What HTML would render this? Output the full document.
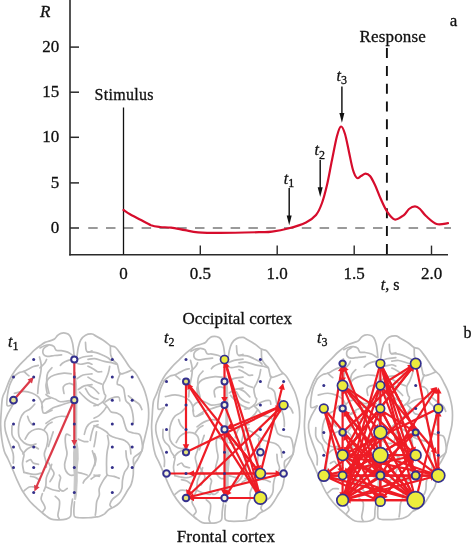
<!DOCTYPE html>
<html><head><meta charset="utf-8"><style>
html,body{margin:0;padding:0;background:#fff;}
svg{display:block;}
.t16{font-family:"Liberation Serif",serif;font-size:16px;fill:#111;stroke:#111;stroke-width:0.3px;}
.t17{font-family:"Liberation Serif",serif;font-size:17px;fill:#111;stroke:#111;stroke-width:0.3px;}
.i16{font-family:"Liberation Serif",serif;font-size:16px;font-style:italic;fill:#111;stroke:#111;stroke-width:0.3px;}
.i17{font-family:"Liberation Serif",serif;font-size:17px;font-style:italic;fill:#111;stroke:#111;stroke-width:0.3px;}
.i{font-style:italic;}
</style></head><body>
<svg width="472" height="543" viewBox="0 0 472 543">
<line x1="70" y1="0" x2="70" y2="255.6" stroke="#2a2a2a" stroke-width="1.6"/>
<line x1="69.2" y1="254.8" x2="448" y2="254.8" stroke="#2a2a2a" stroke-width="1.6"/>
<line x1="70" y1="228" x2="79" y2="228" stroke="#2a2a2a" stroke-width="1.5"/>
<text x="59.2" y="233.1" text-anchor="end" class="t17">0</text>
<line x1="70" y1="182.9" x2="79" y2="182.9" stroke="#2a2a2a" stroke-width="1.5"/>
<text x="59.2" y="188.0" text-anchor="end" class="t17">5</text>
<line x1="70" y1="137.3" x2="79" y2="137.3" stroke="#2a2a2a" stroke-width="1.5"/>
<text x="59.2" y="142.4" text-anchor="end" class="t17">10</text>
<line x1="70" y1="92.2" x2="79" y2="92.2" stroke="#2a2a2a" stroke-width="1.5"/>
<text x="59.2" y="97.3" text-anchor="end" class="t17">15</text>
<line x1="70" y1="47.1" x2="79" y2="47.1" stroke="#2a2a2a" stroke-width="1.5"/>
<text x="59.2" y="52.2" text-anchor="end" class="t17">20</text>
<text x="123.5" y="278.8" text-anchor="middle" class="t17">0</text>
<line x1="200.3" y1="245.6" x2="200.3" y2="254.8" stroke="#2a2a2a" stroke-width="1.4"/>
<text x="200.3" y="278.8" text-anchor="middle" class="t17">0.5</text>
<line x1="277.2" y1="245.6" x2="277.2" y2="254.8" stroke="#2a2a2a" stroke-width="1.4"/>
<text x="277.2" y="278.8" text-anchor="middle" class="t17">1.0</text>
<line x1="354.2" y1="245.6" x2="354.2" y2="254.8" stroke="#2a2a2a" stroke-width="1.4"/>
<text x="354.2" y="278.8" text-anchor="middle" class="t17">1.5</text>
<line x1="431.5" y1="245.6" x2="431.5" y2="254.8" stroke="#2a2a2a" stroke-width="1.4"/>
<text x="431.5" y="278.8" text-anchor="middle" class="t17">2.0</text>
<line x1="88.2" y1="228" x2="451" y2="228" stroke="#7a7a7a" stroke-width="1.6" stroke-dasharray="9.5 8.3"/>
<line x1="123.5" y1="107.5" x2="123.5" y2="254.5" stroke="#111" stroke-width="1.3"/>
<text x="94.5" y="100" class="t16" textLength="59">Stimulus</text>
<line x1="386.9" y1="48.1" x2="386.9" y2="254.5" stroke="#111" stroke-width="1.9" stroke-dasharray="10 7.8"/>
<text x="359.5" y="42.2" class="t17" textLength="66.3">Response</text>
<text x="40" y="17.2" class="i17">R</text>
<text x="380.8" y="289.6" class="t16"><tspan class="i">t</tspan>, s</text>
<text x="449.8" y="25.7" class="t17">a</text>
<path d="M123.5,210 C124.6,210.7 127.2,212.6 130.0,214.2 C132.8,215.8 136.5,217.7 140.0,219.5 C143.5,221.3 147.7,223.9 151.0,225.2 C154.3,226.4 156.7,226.6 160.0,227.0 C163.3,227.4 166.8,227.1 171.0,227.6 C175.2,228.1 180.5,229.4 185.0,230.2 C189.5,231.0 192.2,231.9 198.0,232.3 C203.8,232.7 209.8,232.8 220.0,232.8 C230.2,232.8 250.3,232.4 259.0,232.2 C267.7,232.0 267.0,232.3 272.0,231.6 C277.0,230.9 283.3,229.7 289.0,228.2 C294.7,226.7 301.5,224.6 306.0,222.4 C310.5,220.2 313.3,218.2 316.0,215.0 C318.7,211.8 320.2,208.0 322.0,203.0 C323.8,198.0 325.3,192.2 327.0,185.0 C328.7,177.8 330.3,168.2 332.0,160.0 C333.7,151.8 335.5,141.6 337.0,136.0 C338.5,130.4 339.7,126.8 341.0,126.5 C342.3,126.2 343.7,129.8 345.0,134.0 C346.3,138.2 347.7,146.0 349.0,152.0 C350.3,158.0 351.7,165.7 353.0,170.0 C354.3,174.3 355.7,177.0 357.0,178.0 C358.3,179.0 359.6,176.7 361.0,176.0 C362.4,175.3 364.0,173.6 365.5,173.6 C367.0,173.6 368.4,174.1 370.0,176.0 C371.6,177.9 373.2,181.2 375.0,185.0 C376.8,188.8 378.7,194.4 380.7,198.8 C382.7,203.2 384.7,208.1 387.0,211.5 C389.3,214.9 391.9,218.9 394.7,219.5 C397.5,220.1 401.2,217.1 403.6,215.3 C406.0,213.6 407.1,210.5 409.0,209.0 C410.9,207.5 413.2,206.4 415.0,206.4 C416.8,206.4 418.2,207.4 420.0,209.0 C421.8,210.6 423.2,213.5 426.0,216.0 C428.8,218.5 432.9,222.8 436.6,224.0 C440.3,225.2 446.1,223.3 448.0,223.2" fill="none" stroke="#d60c2c" stroke-width="2.2" stroke-linejoin="round" stroke-linecap="round"/>
<line x1="289.2" y1="188" x2="289.2" y2="219.2" stroke="#1a1a1a" stroke-width="1.5"/>
<path d="M286.7,215.39999999999998 L291.7,215.39999999999998 L289.2,225.2 Z" fill="#111"/>
<line x1="320.2" y1="160" x2="320.2" y2="191" stroke="#1a1a1a" stroke-width="1.5"/>
<path d="M317.7,187.2 L322.7,187.2 L320.2,197 Z" fill="#111"/>
<line x1="341.9" y1="86.5" x2="341.9" y2="116.8" stroke="#1a1a1a" stroke-width="1.5"/>
<path d="M339.4,113.0 L344.4,113.0 L341.9,122.8 Z" fill="#111"/>
<text x="283.8" y="183.5" class="i16">t<tspan font-style="normal" font-size="12" dy="3.5">1</tspan></text>
<text x="314.5" y="155" class="i16">t<tspan font-style="normal" font-size="12" dy="3.5">2</tspan></text>
<text x="336.5" y="80.5" class="i16">t<tspan font-style="normal" font-size="12" dy="3.5">3</tspan></text>
<g transform="translate(0,0) translate(0,333) scale(1,1.008) translate(0,-333)" fill="none" stroke="#bdbdbd" stroke-width="1.7" stroke-linecap="round" stroke-linejoin="round"><path d="M74.1,355.6 C74.0,354.6 73.8,351.8 73.5,349.6 C73.2,347.4 73.0,344.7 72.4,342.4 C71.8,340.1 71.0,337.5 70.0,336.0 C69.0,334.5 67.9,333.8 66.4,333.4 C64.9,332.9 62.5,332.9 61.0,333.3 C59.5,333.7 58.6,334.6 57.5,335.5 C56.4,336.4 55.8,338.1 54.5,339.0 C53.2,339.9 51.6,340.2 50.0,340.8 C48.4,341.4 46.5,341.6 45.0,342.3 C43.5,343.0 42.4,343.9 40.7,345.2 C39.0,346.4 36.9,347.9 34.7,349.8 C32.5,351.7 30.0,354.5 27.6,356.8 C25.2,359.1 22.6,361.5 20.4,363.9 C18.2,366.3 16.2,368.5 14.4,371.1 C12.6,373.7 11.1,376.3 9.6,379.5 C8.1,382.7 6.6,387.3 5.4,390.3 C4.2,393.3 3.1,394.0 2.4,397.6 C1.7,401.2 1.5,407.6 1.2,412.0 C0.9,416.4 0.5,419.6 0.6,424.0 C0.7,428.4 1.2,434.0 1.8,438.3 C2.4,442.6 3.2,446.7 4.2,450.0 C5.2,453.3 6.5,454.7 8.0,458.0 C9.5,461.3 11.8,466.4 13.3,469.9 C14.8,473.4 15.7,475.9 17.2,479.2 C18.7,482.5 20.5,486.5 22.5,489.8 C24.5,493.1 26.8,496.2 29.2,499.1 C31.6,502.0 34.5,504.6 37.1,507.0 C39.8,509.4 42.7,511.9 45.1,513.7 C47.5,515.5 48.9,516.9 51.3,517.7 C53.7,518.5 56.9,518.3 59.3,518.3 C61.7,518.3 64.0,518.2 65.9,517.7 C67.8,517.2 69.6,516.8 70.5,515.0 C71.4,513.2 70.9,509.9 71.2,507.0 C71.5,504.1 72.3,499.3 72.5,497.8"/><path d="M13.2,377.1 C12.6,378.4 10.5,382.0 9.5,385.0 C8.5,388.0 7.8,391.7 7.4,395.0 C7.0,398.3 6.2,403.6 7.2,405.0 C8.2,406.4 12.2,403.8 13.2,403.6"/><path d="M13.2,403.6 C12.2,405.4 8.6,411.4 7.2,414.4 C5.8,417.4 5.1,418.9 4.8,421.5 C4.5,424.1 4.8,427.0 5.4,430.0 C6.0,433.0 7.1,435.7 8.4,439.5 C9.7,443.3 12.4,449.2 13.2,453.0 C14.0,456.8 13.3,460.5 13.3,462.0"/><path d="M40,347.8 C40.8,347.4 42.9,346.1 44.5,345.6 C46.1,345.1 48.1,344.7 49.6,344.8 C51.1,344.9 52.7,345.3 53.8,346.2 C54.9,347.1 55.0,349.5 56.2,350.2 C57.4,350.9 59.1,350.2 61.0,350.5 C62.9,350.8 65.6,351.2 67.6,352.0 C69.6,352.8 72.1,354.8 73.0,355.3"/><path d="M47.9,345.5 C47.3,345.9 45.1,346.9 44.3,347.8 C43.4,348.7 42.9,349.9 42.8,351.0 C42.7,352.1 42.9,353.5 43.6,354.4 C44.3,355.3 45.4,356.0 47.2,356.2 C49.0,356.4 52.0,355.6 54.4,355.3 C56.8,355.0 60.4,354.7 61.6,354.6"/><path d="M52,367.5 C51.3,368.3 48.8,370.5 47.9,372.3 C47.0,374.1 46.8,376.1 46.7,378.3 C46.6,380.5 46.9,383.1 47.3,385.5 C47.7,387.9 48.8,391.8 49.1,393.0"/><path d="M39.5,356.8 C39.7,357.6 40.4,359.9 40.7,361.5 C41.0,363.1 41.3,364.5 41.3,366.3 C41.3,368.1 41.0,370.3 40.7,372.3 C40.4,374.3 39.9,376.1 39.5,378.3 C39.1,380.5 38.6,383.1 38.3,385.5 C38.0,387.9 37.8,391.8 37.7,393.0"/><path d="M38.3,365.1 C37.5,365.3 35.1,365.7 33.5,366.3 C31.9,366.9 30.4,367.9 28.8,368.7 C27.2,369.5 25.6,370.5 24.0,371.1 C22.4,371.7 20.6,371.7 19.2,372.3 C17.8,372.9 16.6,373.9 15.6,374.7 C14.6,375.5 13.6,376.7 13.2,377.1"/><path d="M24,371.1 C24.4,371.5 25.7,372.8 26.5,373.5 C27.3,374.2 28.6,375.2 29.0,375.5"/><path d="M40,367.5 C40.8,366.7 43.7,364.1 44.8,362.7 C45.9,361.3 46.3,359.8 46.6,359.2"/><path d="M72.4,359.2 C71.6,359.4 69.2,359.8 67.6,360.4 C66.0,361.0 64.0,361.9 62.8,362.7 C61.6,363.5 60.8,364.7 60.4,365.1"/><path d="M47.2,393 C47.0,391.6 45.8,386.8 46.0,384.3 C46.2,381.9 47.0,379.9 48.4,378.3 C49.8,376.7 51.8,375.6 54.4,374.7 C57.0,373.8 61.2,373.1 64.0,372.9 C66.8,372.7 70.0,373.4 71.2,373.5"/><path d="M64,393 C63.9,391.9 62.6,387.9 63.4,386.3 C64.2,384.7 67.1,383.4 68.8,383.1 C70.5,382.8 72.7,384.1 73.5,384.3"/><path d="M14.4,392.8 C16.0,392.5 21.0,391.0 24.0,391.0 C27.0,391.0 30.0,391.9 32.4,392.8 C34.8,393.7 36.8,395.0 38.3,396.4 C39.8,397.8 40.6,399.4 41.3,401.2 C42.0,403.0 42.3,406.2 42.5,407.2"/><path d="M41.9,402.4 C42.5,401.8 44.1,399.6 45.5,398.8 C46.9,398.0 49.5,397.8 50.3,397.6"/><path d="M34.7,403.6 C33.9,404.4 31.8,407.0 30.0,408.4 C28.2,409.8 25.6,410.4 24.0,412.0 C22.4,413.6 21.3,415.6 20.4,418.0 C19.5,420.4 18.8,423.3 18.6,426.3 C18.4,429.3 18.3,433.3 19.2,435.9 C20.1,438.5 22.2,440.5 24.0,441.9 C25.8,443.3 28.0,444.1 30.0,444.3 C32.0,444.5 34.9,443.3 35.9,443.1"/><path d="M41.9,406 C42.1,407.0 42.3,411.0 43.1,412.0 C43.9,413.0 45.2,412.4 46.7,412.0 C48.2,411.6 51.1,410.0 52.0,409.6"/><path d="M27.6,415.6 C27.9,416.4 28.6,419.0 29.4,420.4 C30.2,421.8 31.9,423.4 32.4,424.0"/><path d="M25.2,438.3 C25.8,437.3 27.2,433.9 28.8,432.3 C30.4,430.7 32.5,429.3 34.7,428.7 C36.9,428.1 39.9,428.1 41.9,428.7 C43.9,429.3 45.7,430.7 46.7,432.3 C47.7,433.9 47.9,436.1 47.9,438.3 C47.9,440.5 47.3,443.1 46.7,445.5 C46.1,447.9 44.4,450.6 44.3,453.0 C44.1,455.4 45.4,457.8 45.8,460.0 C46.1,462.2 46.3,465.0 46.4,466.0"/><path d="M52,421.5 C51.3,421.9 49.2,422.8 47.9,424.0 C46.6,425.2 44.9,427.9 44.3,428.7"/><path d="M12,425.1 C12.0,426.5 11.6,431.3 12.0,433.5 C12.4,435.7 13.4,436.9 14.4,438.3 C15.4,439.7 17.0,440.3 18.0,441.9 C19.0,443.5 19.4,446.0 20.4,447.9 C21.4,449.8 23.4,451.3 23.9,453.0 C24.4,454.7 23.4,456.3 23.2,458.0 C23.0,459.7 22.4,461.1 22.5,463.3 C22.6,465.5 23.7,469.9 23.9,471.2"/><path d="M22.8,453 C23.6,452.1 25.8,449.1 27.6,447.9 C29.4,446.6 31.7,445.5 33.5,445.5 C35.3,445.5 37.5,447.5 38.3,447.9"/><path d="M46,394 C46.6,394.4 48.0,395.6 49.6,396.4 C51.2,397.2 53.8,398.0 55.6,398.8 C57.4,399.6 58.0,401.0 60.4,401.2 C62.8,401.4 68.4,400.2 70.0,400.0"/><path d="M46,412 C47.2,411.2 50.8,408.4 53.2,407.2 C55.6,406.0 58.0,405.6 60.4,404.8 C62.8,404.0 65.6,403.0 67.6,402.4 C69.6,401.8 71.6,401.4 72.4,401.2"/><path d="M46,422.7 C46.8,422.1 49.2,420.2 50.8,419.2 C52.4,418.2 53.8,417.4 55.6,416.8 C57.4,416.2 59.6,415.7 61.6,415.6 C63.6,415.5 66.6,416.1 67.6,416.2"/><path d="M53.2,431.1 C52.8,432.3 51.6,435.9 50.8,438.3 C50.0,440.7 48.8,444.3 48.4,445.5"/><path d="M70,434.7 C69.4,434.5 67.2,432.9 66.4,433.5 C65.6,434.1 65.3,436.3 65.2,438.3 C65.1,440.3 65.5,443.1 65.8,445.5 C66.1,447.9 67.2,450.0 67.0,453.0 C66.8,456.0 64.8,460.5 64.6,463.3 C64.4,466.1 65.0,468.1 65.9,469.9 C66.8,471.7 68.6,473.2 69.9,473.9 C71.2,474.6 73.2,473.9 73.9,473.9"/><path d="M26.5,460.6 C27.2,460.3 29.4,458.4 30.5,458.6 C31.6,458.8 31.9,461.1 33.2,461.9 C34.5,462.7 37.6,463.1 38.5,463.3"/><path d="M23.9,471.2 C24.8,471.4 27.2,472.2 29.2,472.5 C31.2,472.8 33.8,473.3 35.8,473.2 C37.8,473.1 40.2,472.1 41.1,471.9"/><path d="M30.5,475.2 C31.4,475.4 34.2,475.8 35.8,476.5 C37.3,477.2 39.1,478.8 39.8,479.2"/><path d="M23.9,489.8 C24.8,489.1 27.4,486.5 29.2,485.8 C31.0,485.1 33.6,485.8 34.5,485.8"/><path d="M42.4,492.4 C42.2,493.3 40.9,495.9 41.1,497.7 C41.3,499.5 43.1,501.4 43.8,503.0 C44.5,504.6 45.3,505.7 45.1,507.0 C44.9,508.3 42.4,509.9 42.4,511.0 C42.4,512.1 44.6,513.2 45.1,513.7"/><path d="M51.7,463.3 C51.3,464.4 50.0,467.7 49.1,469.9 C48.2,472.1 47.0,474.1 46.4,476.5 C45.8,478.9 46.2,482.3 45.8,484.5 C45.4,486.7 44.1,488.9 43.8,489.8"/><path d="M59.3,473.9 C59.5,474.3 60.6,475.2 60.6,476.5 C60.6,477.8 59.5,480.0 59.3,481.8 C59.1,483.6 58.6,485.9 59.3,487.2 C59.9,488.5 61.9,489.8 63.2,489.8 C64.5,489.8 66.5,487.6 67.2,487.2"/><path d="M46,485.8 C47.1,486.2 50.4,487.8 52.6,488.5 C54.8,489.2 58.2,489.6 59.3,489.8"/><path d="M55.3,495.1 C56.0,495.8 58.6,497.3 59.3,499.1 C60.0,500.9 59.5,503.3 59.3,505.7 C59.1,508.1 57.9,511.7 57.9,513.7 C57.9,515.7 59.1,517.0 59.3,517.7"/><path d="M48.7,461.9 C49.1,462.8 50.4,465.4 51.3,467.2 C52.2,469.0 54.2,470.4 54.0,472.6 C53.8,474.8 50.7,479.2 50.0,480.5"/><path d="M77.1,355.6 C77.3,354.2 77.7,349.8 78.3,347.2 C78.9,344.6 79.5,342.0 80.7,340.0 C81.9,338.0 83.6,336.2 85.5,335.2 C87.4,334.2 90.2,333.9 92.0,334.0 C93.8,334.1 94.0,335.0 96.1,336.1 C98.1,337.2 101.9,339.3 104.3,340.9 C106.7,342.5 108.6,344.6 110.4,345.6 C112.2,346.6 113.6,346.0 115.1,347.0 C116.6,348.0 117.6,349.7 119.2,351.7 C120.8,353.7 122.8,356.6 124.6,359.2 C126.4,361.8 128.2,365.1 130.0,367.3 C131.8,369.6 133.9,370.7 135.5,372.7 C137.1,374.7 138.2,377.0 139.5,379.5 C140.8,382.0 142.5,385.1 143.6,387.7 C144.7,390.3 145.4,392.7 146.2,395.4 C146.9,398.1 147.7,401.1 148.1,404.0 C148.5,406.9 148.7,409.5 148.7,412.6 C148.7,415.7 148.6,418.9 148.1,422.4 C147.6,425.9 146.4,430.0 145.6,433.5 C144.8,437.0 143.8,440.6 143.2,443.3 C142.6,446.1 142.7,447.6 141.8,450.0 C140.9,452.4 139.1,455.6 137.8,458.0 C136.5,460.4 134.6,462.0 133.8,464.6 C133.0,467.2 133.6,470.8 133.2,473.9 C132.8,477.0 132.2,480.5 131.2,483.2 C130.2,485.9 128.5,487.6 127.2,489.8 C125.9,492.0 124.5,494.5 123.2,496.5 C121.9,498.5 120.8,500.3 119.2,501.8 C117.7,503.3 115.7,504.6 113.9,505.7 C112.1,506.8 110.1,507.3 108.6,508.4 C107.0,509.5 106.1,511.3 104.6,512.4 C103.0,513.5 100.7,514.5 99.3,515.0 C97.9,515.5 98.2,515.3 96.4,515.5 C94.6,515.7 91.4,516.2 88.5,516.3 C85.6,516.4 81.5,516.5 79.2,516.3 C76.9,516.1 75.4,516.3 74.5,515.0 C73.6,513.7 73.9,510.8 73.9,508.4 C73.9,506.0 74.4,501.7 74.5,500.4"/><path d="M77.1,359.2 C78.1,358.8 80.6,357.4 83.1,356.8 C85.6,356.2 90.5,355.8 92.0,355.6"/><path d="M85.5,342.4 C85.6,343.6 85.7,348.0 86.1,349.6 C86.5,351.2 86.9,351.8 87.9,352.0 C88.9,352.2 91.3,351.0 92.0,350.8"/><path d="M76,362.7 C76.8,362.9 78.7,364.0 80.7,364.0 C82.7,364.0 86.0,362.7 87.9,362.7 C89.8,362.7 91.3,363.8 92.0,364.0"/><path d="M77.1,378.3 C78.1,377.7 80.6,375.5 83.1,374.7 C85.6,373.9 90.5,373.7 92.0,373.5"/><path d="M78.3,389.1 C79.3,388.5 82.0,386.3 84.3,385.5 C86.6,384.7 90.7,384.5 92.0,384.3"/><path d="M110.4,346.3 C110.5,347.8 110.2,352.7 110.8,355.1 C111.4,357.5 112.7,359.0 113.8,360.5 C114.9,362.0 116.4,362.5 117.2,363.9 C118.0,365.3 118.0,367.1 118.5,368.7 C119.0,370.3 118.9,372.7 119.9,373.4 C120.9,374.1 122.7,373.3 124.6,372.7 C126.5,372.1 130.3,370.4 131.4,370.0"/><path d="M88,351.7 C89.3,351.8 93.6,351.8 96.1,352.4 C98.6,353.0 100.9,354.2 102.9,355.1 C104.9,356.0 107.0,356.9 108.3,357.8 C109.6,358.7 110.5,360.1 111.0,360.5"/><path d="M88,359.2 C89.1,359.1 92.1,358.2 94.8,358.5 C97.5,358.8 101.4,360.5 104.3,361.2 C107.2,361.9 110.4,362.2 112.4,362.6 C114.4,363.1 115.8,363.7 116.5,363.9"/><path d="M88,366 C88.9,366.4 91.8,367.8 93.4,368.7 C95.0,369.6 96.1,370.9 97.5,371.4 C98.9,371.8 100.9,371.4 101.6,371.4"/><path d="M109.7,366 C109.5,367.1 109.0,370.4 108.3,372.7 C107.6,374.9 106.5,377.4 105.6,379.5 C104.7,381.6 103.1,382.8 102.9,385.0 C102.7,387.2 103.8,391.3 104.3,393.0 C104.8,394.7 105.8,394.2 105.7,395.4 C105.6,396.6 104.9,398.9 103.8,400.3 C102.7,401.7 100.5,403.2 98.9,404.0 C97.3,404.8 94.8,405.0 94.0,405.2"/><path d="M88,376.8 C89.1,377.5 92.5,379.8 94.8,380.9 C97.1,382.0 100.5,383.2 101.6,383.6"/><path d="M120.5,372.7 C120.0,373.8 118.3,377.7 117.8,379.5 C117.2,381.3 116.8,382.7 117.2,383.6 C117.7,384.5 119.5,384.3 120.5,385.0 C121.5,385.7 122.8,386.5 123.5,388.0 C124.2,389.5 124.3,392.1 124.7,394.1 C125.1,396.2 125.2,398.7 126.0,400.3 C126.8,401.9 128.6,402.4 129.6,404.0 C130.6,405.6 131.5,407.9 132.1,410.1 C132.7,412.4 133.1,415.4 133.3,417.5 C133.5,419.6 133.3,421.6 133.3,422.4"/><path d="M88,385 C88.9,385.4 91.6,386.4 93.4,387.7 C95.2,389.0 97.9,392.1 98.8,393.0"/><path d="M128.4,395.4 C129.4,396.2 132.8,398.9 134.6,400.3 C136.4,401.7 138.3,402.6 139.5,404.0 C140.7,405.4 141.5,408.1 141.9,408.9"/><path d="M105,401.5 C106.0,400.9 108.9,398.6 111.2,397.8 C113.5,397.0 117.2,396.2 118.6,396.6 C120.0,397.0 119.6,399.7 119.8,400.3"/><path d="M102.6,401.5 C103.4,402.3 106.1,404.8 107.5,406.4 C108.9,408.0 109.6,410.3 111.2,411.3 C112.8,412.3 115.5,411.8 117.3,412.6 C119.1,413.4 121.1,414.5 122.3,416.3 C123.5,418.1 123.9,421.4 124.7,423.6 C125.5,425.9 125.8,428.4 127.2,429.8 C128.6,431.2 131.2,431.6 133.3,432.2 C135.4,432.8 138.1,432.1 139.5,433.5 C140.9,434.9 141.5,438.1 141.9,440.8 C142.3,443.6 143.2,447.4 141.9,450.0 C140.6,452.6 135.2,454.2 133.8,456.6 C132.5,459.0 133.8,463.3 133.8,464.6"/><path d="M94,424.9 C95.0,425.3 98.0,426.3 100.1,427.3 C102.1,428.3 104.6,429.8 106.3,431.0 C108.0,432.2 108.4,433.7 110.0,434.7 C111.6,435.7 113.6,436.4 116.1,437.2 C118.5,438.0 122.5,438.4 124.7,439.6 C127.0,440.8 128.6,442.3 129.6,444.5 C130.6,446.7 130.7,451.6 130.9,453.0"/><path d="M94,417.5 C94.8,417.1 97.3,416.2 98.9,415.0 C100.5,413.8 102.6,411.5 103.8,410.1 C105.0,408.7 105.9,407.0 106.3,406.4"/><path d="M96.5,431 C96.3,432.4 95.6,437.1 95.2,439.6 C94.8,442.1 94.2,444.8 94.0,445.8"/><path d="M107.5,434.7 C107.7,435.9 108.7,439.6 108.7,442.1 C108.7,444.7 107.7,447.4 107.3,450.0 C106.9,452.6 106.7,455.1 106.6,458.0 C106.5,460.9 106.5,464.7 106.6,467.3 C106.7,469.9 106.1,472.6 107.3,473.9 C108.5,475.2 111.9,474.6 113.9,475.2 C115.9,475.8 118.3,476.9 119.2,477.2"/><path d="M79.5,391.6 C80.3,392.4 82.5,394.8 84.3,396.4 C86.1,398.0 88.0,399.8 90.3,401.2 C92.6,402.6 96.7,404.2 98.0,404.8"/><path d="M85.5,388 C86.1,389.0 87.7,392.4 89.1,394.0 C90.5,395.6 92.4,396.8 93.9,397.6 C95.4,398.4 97.3,398.6 98.0,398.8"/><path d="M98,420.4 C96.9,420.6 93.4,420.5 91.5,421.5 C89.6,422.5 87.9,424.3 86.7,426.3 C85.5,428.3 84.7,432.3 84.3,433.5"/><path d="M98,424 C97.3,424.4 95.0,424.7 93.9,426.3 C92.8,427.9 92.1,431.3 91.5,433.5 C90.9,435.7 90.5,438.5 90.3,439.5"/><path d="M78.3,438.3 C79.3,438.7 82.7,440.3 84.3,440.7 C85.9,441.1 87.3,440.7 87.9,440.7"/><path d="M125.9,450 C126.0,451.1 126.1,454.4 126.5,456.6 C126.9,458.8 128.4,461.5 128.5,463.3 C128.6,465.1 127.9,466.0 127.2,467.3 C126.5,468.6 125.3,469.2 124.5,471.2 C123.7,473.2 122.9,476.5 122.5,479.2 C122.1,481.9 122.5,485.0 121.9,487.2 C121.4,489.4 120.8,490.7 119.2,492.5 C117.7,494.3 114.1,496.0 112.6,497.8 C111.0,499.6 110.1,501.8 109.9,503.1 C109.7,504.4 111.1,505.3 111.3,505.7"/><path d="M107.3,473.9 C106.6,474.8 104.6,477.0 103.3,479.2 C102.0,481.4 100.0,484.8 99.3,487.2 C98.6,489.6 99.7,491.6 99.3,493.8 C98.9,496.0 97.2,498.0 96.7,500.4 C96.2,502.8 96.2,506.2 96.0,508.4 C95.8,510.6 95.4,512.8 95.3,513.7"/><path d="M94,473.9 C94.9,474.1 98.4,475.0 99.3,475.2"/><path d="M77.8,471.2 C78.7,471.4 81.7,472.2 83.2,472.6 C84.8,473.1 86.4,473.7 87.1,473.9"/><path d="M92.4,450 C92.9,451.8 95.1,457.5 95.1,460.6 C95.1,463.7 93.3,466.4 92.4,468.6 C91.5,470.8 91.1,472.1 89.8,473.9 C88.5,475.7 85.6,477.9 84.5,479.2 C83.4,480.5 83.4,481.4 83.2,481.8"/><path d="M100,473.9 C99.2,474.1 96.6,474.5 95.1,475.2 C93.6,475.9 91.8,477.4 91.1,477.9"/><path d="M94.5,452.7 C94.8,453.6 96.0,456.0 96.0,458.0 C96.0,460.0 94.9,463.5 94.7,464.6"/><path d="M75.2,372 L76.6,385 L76.9,400 L76.8,420 L76.6,440 L78,448 L78.2,458 L77.2,468 L77.2,480 L76.6,492 L75.6,498 L74.4,498 L74,488 L74.3,476 L73.6,465 L73.6,452 L74.6,440 L74.8,420 L74.9,400 L74.8,385 Z" fill="#c8c8c8" stroke="#c8c8c8" stroke-width="1"/></g>
<g transform="translate(151,3.4) translate(0,333) scale(1,1.008) translate(0,-333)" fill="none" stroke="#bdbdbd" stroke-width="1.7" stroke-linecap="round" stroke-linejoin="round"><path d="M74.1,355.6 C74.0,354.6 73.8,351.8 73.5,349.6 C73.2,347.4 73.0,344.7 72.4,342.4 C71.8,340.1 71.0,337.5 70.0,336.0 C69.0,334.5 67.9,333.8 66.4,333.4 C64.9,332.9 62.5,332.9 61.0,333.3 C59.5,333.7 58.6,334.6 57.5,335.5 C56.4,336.4 55.8,338.1 54.5,339.0 C53.2,339.9 51.6,340.2 50.0,340.8 C48.4,341.4 46.5,341.6 45.0,342.3 C43.5,343.0 42.4,343.9 40.7,345.2 C39.0,346.4 36.9,347.9 34.7,349.8 C32.5,351.7 30.0,354.5 27.6,356.8 C25.2,359.1 22.6,361.5 20.4,363.9 C18.2,366.3 16.2,368.5 14.4,371.1 C12.6,373.7 11.1,376.3 9.6,379.5 C8.1,382.7 6.6,387.3 5.4,390.3 C4.2,393.3 3.1,394.0 2.4,397.6 C1.7,401.2 1.5,407.6 1.2,412.0 C0.9,416.4 0.5,419.6 0.6,424.0 C0.7,428.4 1.2,434.0 1.8,438.3 C2.4,442.6 3.2,446.7 4.2,450.0 C5.2,453.3 6.5,454.7 8.0,458.0 C9.5,461.3 11.8,466.4 13.3,469.9 C14.8,473.4 15.7,475.9 17.2,479.2 C18.7,482.5 20.5,486.5 22.5,489.8 C24.5,493.1 26.8,496.2 29.2,499.1 C31.6,502.0 34.5,504.6 37.1,507.0 C39.8,509.4 42.7,511.9 45.1,513.7 C47.5,515.5 48.9,516.9 51.3,517.7 C53.7,518.5 56.9,518.3 59.3,518.3 C61.7,518.3 64.0,518.2 65.9,517.7 C67.8,517.2 69.6,516.8 70.5,515.0 C71.4,513.2 70.9,509.9 71.2,507.0 C71.5,504.1 72.3,499.3 72.5,497.8"/><path d="M13.2,377.1 C12.6,378.4 10.5,382.0 9.5,385.0 C8.5,388.0 7.8,391.7 7.4,395.0 C7.0,398.3 6.2,403.6 7.2,405.0 C8.2,406.4 12.2,403.8 13.2,403.6"/><path d="M13.2,403.6 C12.2,405.4 8.6,411.4 7.2,414.4 C5.8,417.4 5.1,418.9 4.8,421.5 C4.5,424.1 4.8,427.0 5.4,430.0 C6.0,433.0 7.1,435.7 8.4,439.5 C9.7,443.3 12.4,449.2 13.2,453.0 C14.0,456.8 13.3,460.5 13.3,462.0"/><path d="M40,347.8 C40.8,347.4 42.9,346.1 44.5,345.6 C46.1,345.1 48.1,344.7 49.6,344.8 C51.1,344.9 52.7,345.3 53.8,346.2 C54.9,347.1 55.0,349.5 56.2,350.2 C57.4,350.9 59.1,350.2 61.0,350.5 C62.9,350.8 65.6,351.2 67.6,352.0 C69.6,352.8 72.1,354.8 73.0,355.3"/><path d="M47.9,345.5 C47.3,345.9 45.1,346.9 44.3,347.8 C43.4,348.7 42.9,349.9 42.8,351.0 C42.7,352.1 42.9,353.5 43.6,354.4 C44.3,355.3 45.4,356.0 47.2,356.2 C49.0,356.4 52.0,355.6 54.4,355.3 C56.8,355.0 60.4,354.7 61.6,354.6"/><path d="M52,367.5 C51.3,368.3 48.8,370.5 47.9,372.3 C47.0,374.1 46.8,376.1 46.7,378.3 C46.6,380.5 46.9,383.1 47.3,385.5 C47.7,387.9 48.8,391.8 49.1,393.0"/><path d="M39.5,356.8 C39.7,357.6 40.4,359.9 40.7,361.5 C41.0,363.1 41.3,364.5 41.3,366.3 C41.3,368.1 41.0,370.3 40.7,372.3 C40.4,374.3 39.9,376.1 39.5,378.3 C39.1,380.5 38.6,383.1 38.3,385.5 C38.0,387.9 37.8,391.8 37.7,393.0"/><path d="M38.3,365.1 C37.5,365.3 35.1,365.7 33.5,366.3 C31.9,366.9 30.4,367.9 28.8,368.7 C27.2,369.5 25.6,370.5 24.0,371.1 C22.4,371.7 20.6,371.7 19.2,372.3 C17.8,372.9 16.6,373.9 15.6,374.7 C14.6,375.5 13.6,376.7 13.2,377.1"/><path d="M24,371.1 C24.4,371.5 25.7,372.8 26.5,373.5 C27.3,374.2 28.6,375.2 29.0,375.5"/><path d="M40,367.5 C40.8,366.7 43.7,364.1 44.8,362.7 C45.9,361.3 46.3,359.8 46.6,359.2"/><path d="M72.4,359.2 C71.6,359.4 69.2,359.8 67.6,360.4 C66.0,361.0 64.0,361.9 62.8,362.7 C61.6,363.5 60.8,364.7 60.4,365.1"/><path d="M47.2,393 C47.0,391.6 45.8,386.8 46.0,384.3 C46.2,381.9 47.0,379.9 48.4,378.3 C49.8,376.7 51.8,375.6 54.4,374.7 C57.0,373.8 61.2,373.1 64.0,372.9 C66.8,372.7 70.0,373.4 71.2,373.5"/><path d="M64,393 C63.9,391.9 62.6,387.9 63.4,386.3 C64.2,384.7 67.1,383.4 68.8,383.1 C70.5,382.8 72.7,384.1 73.5,384.3"/><path d="M14.4,392.8 C16.0,392.5 21.0,391.0 24.0,391.0 C27.0,391.0 30.0,391.9 32.4,392.8 C34.8,393.7 36.8,395.0 38.3,396.4 C39.8,397.8 40.6,399.4 41.3,401.2 C42.0,403.0 42.3,406.2 42.5,407.2"/><path d="M41.9,402.4 C42.5,401.8 44.1,399.6 45.5,398.8 C46.9,398.0 49.5,397.8 50.3,397.6"/><path d="M34.7,403.6 C33.9,404.4 31.8,407.0 30.0,408.4 C28.2,409.8 25.6,410.4 24.0,412.0 C22.4,413.6 21.3,415.6 20.4,418.0 C19.5,420.4 18.8,423.3 18.6,426.3 C18.4,429.3 18.3,433.3 19.2,435.9 C20.1,438.5 22.2,440.5 24.0,441.9 C25.8,443.3 28.0,444.1 30.0,444.3 C32.0,444.5 34.9,443.3 35.9,443.1"/><path d="M41.9,406 C42.1,407.0 42.3,411.0 43.1,412.0 C43.9,413.0 45.2,412.4 46.7,412.0 C48.2,411.6 51.1,410.0 52.0,409.6"/><path d="M27.6,415.6 C27.9,416.4 28.6,419.0 29.4,420.4 C30.2,421.8 31.9,423.4 32.4,424.0"/><path d="M25.2,438.3 C25.8,437.3 27.2,433.9 28.8,432.3 C30.4,430.7 32.5,429.3 34.7,428.7 C36.9,428.1 39.9,428.1 41.9,428.7 C43.9,429.3 45.7,430.7 46.7,432.3 C47.7,433.9 47.9,436.1 47.9,438.3 C47.9,440.5 47.3,443.1 46.7,445.5 C46.1,447.9 44.4,450.6 44.3,453.0 C44.1,455.4 45.4,457.8 45.8,460.0 C46.1,462.2 46.3,465.0 46.4,466.0"/><path d="M52,421.5 C51.3,421.9 49.2,422.8 47.9,424.0 C46.6,425.2 44.9,427.9 44.3,428.7"/><path d="M12,425.1 C12.0,426.5 11.6,431.3 12.0,433.5 C12.4,435.7 13.4,436.9 14.4,438.3 C15.4,439.7 17.0,440.3 18.0,441.9 C19.0,443.5 19.4,446.0 20.4,447.9 C21.4,449.8 23.4,451.3 23.9,453.0 C24.4,454.7 23.4,456.3 23.2,458.0 C23.0,459.7 22.4,461.1 22.5,463.3 C22.6,465.5 23.7,469.9 23.9,471.2"/><path d="M22.8,453 C23.6,452.1 25.8,449.1 27.6,447.9 C29.4,446.6 31.7,445.5 33.5,445.5 C35.3,445.5 37.5,447.5 38.3,447.9"/><path d="M46,394 C46.6,394.4 48.0,395.6 49.6,396.4 C51.2,397.2 53.8,398.0 55.6,398.8 C57.4,399.6 58.0,401.0 60.4,401.2 C62.8,401.4 68.4,400.2 70.0,400.0"/><path d="M46,412 C47.2,411.2 50.8,408.4 53.2,407.2 C55.6,406.0 58.0,405.6 60.4,404.8 C62.8,404.0 65.6,403.0 67.6,402.4 C69.6,401.8 71.6,401.4 72.4,401.2"/><path d="M46,422.7 C46.8,422.1 49.2,420.2 50.8,419.2 C52.4,418.2 53.8,417.4 55.6,416.8 C57.4,416.2 59.6,415.7 61.6,415.6 C63.6,415.5 66.6,416.1 67.6,416.2"/><path d="M53.2,431.1 C52.8,432.3 51.6,435.9 50.8,438.3 C50.0,440.7 48.8,444.3 48.4,445.5"/><path d="M70,434.7 C69.4,434.5 67.2,432.9 66.4,433.5 C65.6,434.1 65.3,436.3 65.2,438.3 C65.1,440.3 65.5,443.1 65.8,445.5 C66.1,447.9 67.2,450.0 67.0,453.0 C66.8,456.0 64.8,460.5 64.6,463.3 C64.4,466.1 65.0,468.1 65.9,469.9 C66.8,471.7 68.6,473.2 69.9,473.9 C71.2,474.6 73.2,473.9 73.9,473.9"/><path d="M26.5,460.6 C27.2,460.3 29.4,458.4 30.5,458.6 C31.6,458.8 31.9,461.1 33.2,461.9 C34.5,462.7 37.6,463.1 38.5,463.3"/><path d="M23.9,471.2 C24.8,471.4 27.2,472.2 29.2,472.5 C31.2,472.8 33.8,473.3 35.8,473.2 C37.8,473.1 40.2,472.1 41.1,471.9"/><path d="M30.5,475.2 C31.4,475.4 34.2,475.8 35.8,476.5 C37.3,477.2 39.1,478.8 39.8,479.2"/><path d="M23.9,489.8 C24.8,489.1 27.4,486.5 29.2,485.8 C31.0,485.1 33.6,485.8 34.5,485.8"/><path d="M42.4,492.4 C42.2,493.3 40.9,495.9 41.1,497.7 C41.3,499.5 43.1,501.4 43.8,503.0 C44.5,504.6 45.3,505.7 45.1,507.0 C44.9,508.3 42.4,509.9 42.4,511.0 C42.4,512.1 44.6,513.2 45.1,513.7"/><path d="M51.7,463.3 C51.3,464.4 50.0,467.7 49.1,469.9 C48.2,472.1 47.0,474.1 46.4,476.5 C45.8,478.9 46.2,482.3 45.8,484.5 C45.4,486.7 44.1,488.9 43.8,489.8"/><path d="M59.3,473.9 C59.5,474.3 60.6,475.2 60.6,476.5 C60.6,477.8 59.5,480.0 59.3,481.8 C59.1,483.6 58.6,485.9 59.3,487.2 C59.9,488.5 61.9,489.8 63.2,489.8 C64.5,489.8 66.5,487.6 67.2,487.2"/><path d="M46,485.8 C47.1,486.2 50.4,487.8 52.6,488.5 C54.8,489.2 58.2,489.6 59.3,489.8"/><path d="M55.3,495.1 C56.0,495.8 58.6,497.3 59.3,499.1 C60.0,500.9 59.5,503.3 59.3,505.7 C59.1,508.1 57.9,511.7 57.9,513.7 C57.9,515.7 59.1,517.0 59.3,517.7"/><path d="M48.7,461.9 C49.1,462.8 50.4,465.4 51.3,467.2 C52.2,469.0 54.2,470.4 54.0,472.6 C53.8,474.8 50.7,479.2 50.0,480.5"/><path d="M77.1,355.6 C77.3,354.2 77.7,349.8 78.3,347.2 C78.9,344.6 79.5,342.0 80.7,340.0 C81.9,338.0 83.6,336.2 85.5,335.2 C87.4,334.2 90.2,333.9 92.0,334.0 C93.8,334.1 94.0,335.0 96.1,336.1 C98.1,337.2 101.9,339.3 104.3,340.9 C106.7,342.5 108.6,344.6 110.4,345.6 C112.2,346.6 113.6,346.0 115.1,347.0 C116.6,348.0 117.6,349.7 119.2,351.7 C120.8,353.7 122.8,356.6 124.6,359.2 C126.4,361.8 128.2,365.1 130.0,367.3 C131.8,369.6 133.9,370.7 135.5,372.7 C137.1,374.7 138.2,377.0 139.5,379.5 C140.8,382.0 142.5,385.1 143.6,387.7 C144.7,390.3 145.4,392.7 146.2,395.4 C146.9,398.1 147.7,401.1 148.1,404.0 C148.5,406.9 148.7,409.5 148.7,412.6 C148.7,415.7 148.6,418.9 148.1,422.4 C147.6,425.9 146.4,430.0 145.6,433.5 C144.8,437.0 143.8,440.6 143.2,443.3 C142.6,446.1 142.7,447.6 141.8,450.0 C140.9,452.4 139.1,455.6 137.8,458.0 C136.5,460.4 134.6,462.0 133.8,464.6 C133.0,467.2 133.6,470.8 133.2,473.9 C132.8,477.0 132.2,480.5 131.2,483.2 C130.2,485.9 128.5,487.6 127.2,489.8 C125.9,492.0 124.5,494.5 123.2,496.5 C121.9,498.5 120.8,500.3 119.2,501.8 C117.7,503.3 115.7,504.6 113.9,505.7 C112.1,506.8 110.1,507.3 108.6,508.4 C107.0,509.5 106.1,511.3 104.6,512.4 C103.0,513.5 100.7,514.5 99.3,515.0 C97.9,515.5 98.2,515.3 96.4,515.5 C94.6,515.7 91.4,516.2 88.5,516.3 C85.6,516.4 81.5,516.5 79.2,516.3 C76.9,516.1 75.4,516.3 74.5,515.0 C73.6,513.7 73.9,510.8 73.9,508.4 C73.9,506.0 74.4,501.7 74.5,500.4"/><path d="M77.1,359.2 C78.1,358.8 80.6,357.4 83.1,356.8 C85.6,356.2 90.5,355.8 92.0,355.6"/><path d="M85.5,342.4 C85.6,343.6 85.7,348.0 86.1,349.6 C86.5,351.2 86.9,351.8 87.9,352.0 C88.9,352.2 91.3,351.0 92.0,350.8"/><path d="M76,362.7 C76.8,362.9 78.7,364.0 80.7,364.0 C82.7,364.0 86.0,362.7 87.9,362.7 C89.8,362.7 91.3,363.8 92.0,364.0"/><path d="M77.1,378.3 C78.1,377.7 80.6,375.5 83.1,374.7 C85.6,373.9 90.5,373.7 92.0,373.5"/><path d="M78.3,389.1 C79.3,388.5 82.0,386.3 84.3,385.5 C86.6,384.7 90.7,384.5 92.0,384.3"/><path d="M110.4,346.3 C110.5,347.8 110.2,352.7 110.8,355.1 C111.4,357.5 112.7,359.0 113.8,360.5 C114.9,362.0 116.4,362.5 117.2,363.9 C118.0,365.3 118.0,367.1 118.5,368.7 C119.0,370.3 118.9,372.7 119.9,373.4 C120.9,374.1 122.7,373.3 124.6,372.7 C126.5,372.1 130.3,370.4 131.4,370.0"/><path d="M88,351.7 C89.3,351.8 93.6,351.8 96.1,352.4 C98.6,353.0 100.9,354.2 102.9,355.1 C104.9,356.0 107.0,356.9 108.3,357.8 C109.6,358.7 110.5,360.1 111.0,360.5"/><path d="M88,359.2 C89.1,359.1 92.1,358.2 94.8,358.5 C97.5,358.8 101.4,360.5 104.3,361.2 C107.2,361.9 110.4,362.2 112.4,362.6 C114.4,363.1 115.8,363.7 116.5,363.9"/><path d="M88,366 C88.9,366.4 91.8,367.8 93.4,368.7 C95.0,369.6 96.1,370.9 97.5,371.4 C98.9,371.8 100.9,371.4 101.6,371.4"/><path d="M109.7,366 C109.5,367.1 109.0,370.4 108.3,372.7 C107.6,374.9 106.5,377.4 105.6,379.5 C104.7,381.6 103.1,382.8 102.9,385.0 C102.7,387.2 103.8,391.3 104.3,393.0 C104.8,394.7 105.8,394.2 105.7,395.4 C105.6,396.6 104.9,398.9 103.8,400.3 C102.7,401.7 100.5,403.2 98.9,404.0 C97.3,404.8 94.8,405.0 94.0,405.2"/><path d="M88,376.8 C89.1,377.5 92.5,379.8 94.8,380.9 C97.1,382.0 100.5,383.2 101.6,383.6"/><path d="M120.5,372.7 C120.0,373.8 118.3,377.7 117.8,379.5 C117.2,381.3 116.8,382.7 117.2,383.6 C117.7,384.5 119.5,384.3 120.5,385.0 C121.5,385.7 122.8,386.5 123.5,388.0 C124.2,389.5 124.3,392.1 124.7,394.1 C125.1,396.2 125.2,398.7 126.0,400.3 C126.8,401.9 128.6,402.4 129.6,404.0 C130.6,405.6 131.5,407.9 132.1,410.1 C132.7,412.4 133.1,415.4 133.3,417.5 C133.5,419.6 133.3,421.6 133.3,422.4"/><path d="M88,385 C88.9,385.4 91.6,386.4 93.4,387.7 C95.2,389.0 97.9,392.1 98.8,393.0"/><path d="M128.4,395.4 C129.4,396.2 132.8,398.9 134.6,400.3 C136.4,401.7 138.3,402.6 139.5,404.0 C140.7,405.4 141.5,408.1 141.9,408.9"/><path d="M105,401.5 C106.0,400.9 108.9,398.6 111.2,397.8 C113.5,397.0 117.2,396.2 118.6,396.6 C120.0,397.0 119.6,399.7 119.8,400.3"/><path d="M102.6,401.5 C103.4,402.3 106.1,404.8 107.5,406.4 C108.9,408.0 109.6,410.3 111.2,411.3 C112.8,412.3 115.5,411.8 117.3,412.6 C119.1,413.4 121.1,414.5 122.3,416.3 C123.5,418.1 123.9,421.4 124.7,423.6 C125.5,425.9 125.8,428.4 127.2,429.8 C128.6,431.2 131.2,431.6 133.3,432.2 C135.4,432.8 138.1,432.1 139.5,433.5 C140.9,434.9 141.5,438.1 141.9,440.8 C142.3,443.6 143.2,447.4 141.9,450.0 C140.6,452.6 135.2,454.2 133.8,456.6 C132.5,459.0 133.8,463.3 133.8,464.6"/><path d="M94,424.9 C95.0,425.3 98.0,426.3 100.1,427.3 C102.1,428.3 104.6,429.8 106.3,431.0 C108.0,432.2 108.4,433.7 110.0,434.7 C111.6,435.7 113.6,436.4 116.1,437.2 C118.5,438.0 122.5,438.4 124.7,439.6 C127.0,440.8 128.6,442.3 129.6,444.5 C130.6,446.7 130.7,451.6 130.9,453.0"/><path d="M94,417.5 C94.8,417.1 97.3,416.2 98.9,415.0 C100.5,413.8 102.6,411.5 103.8,410.1 C105.0,408.7 105.9,407.0 106.3,406.4"/><path d="M96.5,431 C96.3,432.4 95.6,437.1 95.2,439.6 C94.8,442.1 94.2,444.8 94.0,445.8"/><path d="M107.5,434.7 C107.7,435.9 108.7,439.6 108.7,442.1 C108.7,444.7 107.7,447.4 107.3,450.0 C106.9,452.6 106.7,455.1 106.6,458.0 C106.5,460.9 106.5,464.7 106.6,467.3 C106.7,469.9 106.1,472.6 107.3,473.9 C108.5,475.2 111.9,474.6 113.9,475.2 C115.9,475.8 118.3,476.9 119.2,477.2"/><path d="M79.5,391.6 C80.3,392.4 82.5,394.8 84.3,396.4 C86.1,398.0 88.0,399.8 90.3,401.2 C92.6,402.6 96.7,404.2 98.0,404.8"/><path d="M85.5,388 C86.1,389.0 87.7,392.4 89.1,394.0 C90.5,395.6 92.4,396.8 93.9,397.6 C95.4,398.4 97.3,398.6 98.0,398.8"/><path d="M98,420.4 C96.9,420.6 93.4,420.5 91.5,421.5 C89.6,422.5 87.9,424.3 86.7,426.3 C85.5,428.3 84.7,432.3 84.3,433.5"/><path d="M98,424 C97.3,424.4 95.0,424.7 93.9,426.3 C92.8,427.9 92.1,431.3 91.5,433.5 C90.9,435.7 90.5,438.5 90.3,439.5"/><path d="M78.3,438.3 C79.3,438.7 82.7,440.3 84.3,440.7 C85.9,441.1 87.3,440.7 87.9,440.7"/><path d="M125.9,450 C126.0,451.1 126.1,454.4 126.5,456.6 C126.9,458.8 128.4,461.5 128.5,463.3 C128.6,465.1 127.9,466.0 127.2,467.3 C126.5,468.6 125.3,469.2 124.5,471.2 C123.7,473.2 122.9,476.5 122.5,479.2 C122.1,481.9 122.5,485.0 121.9,487.2 C121.4,489.4 120.8,490.7 119.2,492.5 C117.7,494.3 114.1,496.0 112.6,497.8 C111.0,499.6 110.1,501.8 109.9,503.1 C109.7,504.4 111.1,505.3 111.3,505.7"/><path d="M107.3,473.9 C106.6,474.8 104.6,477.0 103.3,479.2 C102.0,481.4 100.0,484.8 99.3,487.2 C98.6,489.6 99.7,491.6 99.3,493.8 C98.9,496.0 97.2,498.0 96.7,500.4 C96.2,502.8 96.2,506.2 96.0,508.4 C95.8,510.6 95.4,512.8 95.3,513.7"/><path d="M94,473.9 C94.9,474.1 98.4,475.0 99.3,475.2"/><path d="M77.8,471.2 C78.7,471.4 81.7,472.2 83.2,472.6 C84.8,473.1 86.4,473.7 87.1,473.9"/><path d="M92.4,450 C92.9,451.8 95.1,457.5 95.1,460.6 C95.1,463.7 93.3,466.4 92.4,468.6 C91.5,470.8 91.1,472.1 89.8,473.9 C88.5,475.7 85.6,477.9 84.5,479.2 C83.4,480.5 83.4,481.4 83.2,481.8"/><path d="M100,473.9 C99.2,474.1 96.6,474.5 95.1,475.2 C93.6,475.9 91.8,477.4 91.1,477.9"/><path d="M94.5,452.7 C94.8,453.6 96.0,456.0 96.0,458.0 C96.0,460.0 94.9,463.5 94.7,464.6"/><path d="M75.2,372 L76.6,385 L76.9,400 L76.8,420 L76.6,440 L78,448 L78.2,458 L77.2,468 L77.2,480 L76.6,492 L75.6,498 L74.4,498 L74,488 L74.3,476 L73.6,465 L73.6,452 L74.6,440 L74.8,420 L74.9,400 L74.8,385 Z" fill="#c8c8c8" stroke="#c8c8c8" stroke-width="1"/></g>
<g transform="translate(303.8,1.8) translate(0,333) scale(1,1.008) translate(0,-333)" fill="none" stroke="#bdbdbd" stroke-width="1.7" stroke-linecap="round" stroke-linejoin="round"><path d="M74.1,355.6 C74.0,354.6 73.8,351.8 73.5,349.6 C73.2,347.4 73.0,344.7 72.4,342.4 C71.8,340.1 71.0,337.5 70.0,336.0 C69.0,334.5 67.9,333.8 66.4,333.4 C64.9,332.9 62.5,332.9 61.0,333.3 C59.5,333.7 58.6,334.6 57.5,335.5 C56.4,336.4 55.8,338.1 54.5,339.0 C53.2,339.9 51.6,340.2 50.0,340.8 C48.4,341.4 46.5,341.6 45.0,342.3 C43.5,343.0 42.4,343.9 40.7,345.2 C39.0,346.4 36.9,347.9 34.7,349.8 C32.5,351.7 30.0,354.5 27.6,356.8 C25.2,359.1 22.6,361.5 20.4,363.9 C18.2,366.3 16.2,368.5 14.4,371.1 C12.6,373.7 11.1,376.3 9.6,379.5 C8.1,382.7 6.6,387.3 5.4,390.3 C4.2,393.3 3.1,394.0 2.4,397.6 C1.7,401.2 1.5,407.6 1.2,412.0 C0.9,416.4 0.5,419.6 0.6,424.0 C0.7,428.4 1.2,434.0 1.8,438.3 C2.4,442.6 3.2,446.7 4.2,450.0 C5.2,453.3 6.5,454.7 8.0,458.0 C9.5,461.3 11.8,466.4 13.3,469.9 C14.8,473.4 15.7,475.9 17.2,479.2 C18.7,482.5 20.5,486.5 22.5,489.8 C24.5,493.1 26.8,496.2 29.2,499.1 C31.6,502.0 34.5,504.6 37.1,507.0 C39.8,509.4 42.7,511.9 45.1,513.7 C47.5,515.5 48.9,516.9 51.3,517.7 C53.7,518.5 56.9,518.3 59.3,518.3 C61.7,518.3 64.0,518.2 65.9,517.7 C67.8,517.2 69.6,516.8 70.5,515.0 C71.4,513.2 70.9,509.9 71.2,507.0 C71.5,504.1 72.3,499.3 72.5,497.8"/><path d="M13.2,377.1 C12.6,378.4 10.5,382.0 9.5,385.0 C8.5,388.0 7.8,391.7 7.4,395.0 C7.0,398.3 6.2,403.6 7.2,405.0 C8.2,406.4 12.2,403.8 13.2,403.6"/><path d="M13.2,403.6 C12.2,405.4 8.6,411.4 7.2,414.4 C5.8,417.4 5.1,418.9 4.8,421.5 C4.5,424.1 4.8,427.0 5.4,430.0 C6.0,433.0 7.1,435.7 8.4,439.5 C9.7,443.3 12.4,449.2 13.2,453.0 C14.0,456.8 13.3,460.5 13.3,462.0"/><path d="M40,347.8 C40.8,347.4 42.9,346.1 44.5,345.6 C46.1,345.1 48.1,344.7 49.6,344.8 C51.1,344.9 52.7,345.3 53.8,346.2 C54.9,347.1 55.0,349.5 56.2,350.2 C57.4,350.9 59.1,350.2 61.0,350.5 C62.9,350.8 65.6,351.2 67.6,352.0 C69.6,352.8 72.1,354.8 73.0,355.3"/><path d="M47.9,345.5 C47.3,345.9 45.1,346.9 44.3,347.8 C43.4,348.7 42.9,349.9 42.8,351.0 C42.7,352.1 42.9,353.5 43.6,354.4 C44.3,355.3 45.4,356.0 47.2,356.2 C49.0,356.4 52.0,355.6 54.4,355.3 C56.8,355.0 60.4,354.7 61.6,354.6"/><path d="M52,367.5 C51.3,368.3 48.8,370.5 47.9,372.3 C47.0,374.1 46.8,376.1 46.7,378.3 C46.6,380.5 46.9,383.1 47.3,385.5 C47.7,387.9 48.8,391.8 49.1,393.0"/><path d="M39.5,356.8 C39.7,357.6 40.4,359.9 40.7,361.5 C41.0,363.1 41.3,364.5 41.3,366.3 C41.3,368.1 41.0,370.3 40.7,372.3 C40.4,374.3 39.9,376.1 39.5,378.3 C39.1,380.5 38.6,383.1 38.3,385.5 C38.0,387.9 37.8,391.8 37.7,393.0"/><path d="M38.3,365.1 C37.5,365.3 35.1,365.7 33.5,366.3 C31.9,366.9 30.4,367.9 28.8,368.7 C27.2,369.5 25.6,370.5 24.0,371.1 C22.4,371.7 20.6,371.7 19.2,372.3 C17.8,372.9 16.6,373.9 15.6,374.7 C14.6,375.5 13.6,376.7 13.2,377.1"/><path d="M24,371.1 C24.4,371.5 25.7,372.8 26.5,373.5 C27.3,374.2 28.6,375.2 29.0,375.5"/><path d="M40,367.5 C40.8,366.7 43.7,364.1 44.8,362.7 C45.9,361.3 46.3,359.8 46.6,359.2"/><path d="M72.4,359.2 C71.6,359.4 69.2,359.8 67.6,360.4 C66.0,361.0 64.0,361.9 62.8,362.7 C61.6,363.5 60.8,364.7 60.4,365.1"/><path d="M47.2,393 C47.0,391.6 45.8,386.8 46.0,384.3 C46.2,381.9 47.0,379.9 48.4,378.3 C49.8,376.7 51.8,375.6 54.4,374.7 C57.0,373.8 61.2,373.1 64.0,372.9 C66.8,372.7 70.0,373.4 71.2,373.5"/><path d="M64,393 C63.9,391.9 62.6,387.9 63.4,386.3 C64.2,384.7 67.1,383.4 68.8,383.1 C70.5,382.8 72.7,384.1 73.5,384.3"/><path d="M14.4,392.8 C16.0,392.5 21.0,391.0 24.0,391.0 C27.0,391.0 30.0,391.9 32.4,392.8 C34.8,393.7 36.8,395.0 38.3,396.4 C39.8,397.8 40.6,399.4 41.3,401.2 C42.0,403.0 42.3,406.2 42.5,407.2"/><path d="M41.9,402.4 C42.5,401.8 44.1,399.6 45.5,398.8 C46.9,398.0 49.5,397.8 50.3,397.6"/><path d="M34.7,403.6 C33.9,404.4 31.8,407.0 30.0,408.4 C28.2,409.8 25.6,410.4 24.0,412.0 C22.4,413.6 21.3,415.6 20.4,418.0 C19.5,420.4 18.8,423.3 18.6,426.3 C18.4,429.3 18.3,433.3 19.2,435.9 C20.1,438.5 22.2,440.5 24.0,441.9 C25.8,443.3 28.0,444.1 30.0,444.3 C32.0,444.5 34.9,443.3 35.9,443.1"/><path d="M41.9,406 C42.1,407.0 42.3,411.0 43.1,412.0 C43.9,413.0 45.2,412.4 46.7,412.0 C48.2,411.6 51.1,410.0 52.0,409.6"/><path d="M27.6,415.6 C27.9,416.4 28.6,419.0 29.4,420.4 C30.2,421.8 31.9,423.4 32.4,424.0"/><path d="M25.2,438.3 C25.8,437.3 27.2,433.9 28.8,432.3 C30.4,430.7 32.5,429.3 34.7,428.7 C36.9,428.1 39.9,428.1 41.9,428.7 C43.9,429.3 45.7,430.7 46.7,432.3 C47.7,433.9 47.9,436.1 47.9,438.3 C47.9,440.5 47.3,443.1 46.7,445.5 C46.1,447.9 44.4,450.6 44.3,453.0 C44.1,455.4 45.4,457.8 45.8,460.0 C46.1,462.2 46.3,465.0 46.4,466.0"/><path d="M52,421.5 C51.3,421.9 49.2,422.8 47.9,424.0 C46.6,425.2 44.9,427.9 44.3,428.7"/><path d="M12,425.1 C12.0,426.5 11.6,431.3 12.0,433.5 C12.4,435.7 13.4,436.9 14.4,438.3 C15.4,439.7 17.0,440.3 18.0,441.9 C19.0,443.5 19.4,446.0 20.4,447.9 C21.4,449.8 23.4,451.3 23.9,453.0 C24.4,454.7 23.4,456.3 23.2,458.0 C23.0,459.7 22.4,461.1 22.5,463.3 C22.6,465.5 23.7,469.9 23.9,471.2"/><path d="M22.8,453 C23.6,452.1 25.8,449.1 27.6,447.9 C29.4,446.6 31.7,445.5 33.5,445.5 C35.3,445.5 37.5,447.5 38.3,447.9"/><path d="M46,394 C46.6,394.4 48.0,395.6 49.6,396.4 C51.2,397.2 53.8,398.0 55.6,398.8 C57.4,399.6 58.0,401.0 60.4,401.2 C62.8,401.4 68.4,400.2 70.0,400.0"/><path d="M46,412 C47.2,411.2 50.8,408.4 53.2,407.2 C55.6,406.0 58.0,405.6 60.4,404.8 C62.8,404.0 65.6,403.0 67.6,402.4 C69.6,401.8 71.6,401.4 72.4,401.2"/><path d="M46,422.7 C46.8,422.1 49.2,420.2 50.8,419.2 C52.4,418.2 53.8,417.4 55.6,416.8 C57.4,416.2 59.6,415.7 61.6,415.6 C63.6,415.5 66.6,416.1 67.6,416.2"/><path d="M53.2,431.1 C52.8,432.3 51.6,435.9 50.8,438.3 C50.0,440.7 48.8,444.3 48.4,445.5"/><path d="M70,434.7 C69.4,434.5 67.2,432.9 66.4,433.5 C65.6,434.1 65.3,436.3 65.2,438.3 C65.1,440.3 65.5,443.1 65.8,445.5 C66.1,447.9 67.2,450.0 67.0,453.0 C66.8,456.0 64.8,460.5 64.6,463.3 C64.4,466.1 65.0,468.1 65.9,469.9 C66.8,471.7 68.6,473.2 69.9,473.9 C71.2,474.6 73.2,473.9 73.9,473.9"/><path d="M26.5,460.6 C27.2,460.3 29.4,458.4 30.5,458.6 C31.6,458.8 31.9,461.1 33.2,461.9 C34.5,462.7 37.6,463.1 38.5,463.3"/><path d="M23.9,471.2 C24.8,471.4 27.2,472.2 29.2,472.5 C31.2,472.8 33.8,473.3 35.8,473.2 C37.8,473.1 40.2,472.1 41.1,471.9"/><path d="M30.5,475.2 C31.4,475.4 34.2,475.8 35.8,476.5 C37.3,477.2 39.1,478.8 39.8,479.2"/><path d="M23.9,489.8 C24.8,489.1 27.4,486.5 29.2,485.8 C31.0,485.1 33.6,485.8 34.5,485.8"/><path d="M42.4,492.4 C42.2,493.3 40.9,495.9 41.1,497.7 C41.3,499.5 43.1,501.4 43.8,503.0 C44.5,504.6 45.3,505.7 45.1,507.0 C44.9,508.3 42.4,509.9 42.4,511.0 C42.4,512.1 44.6,513.2 45.1,513.7"/><path d="M51.7,463.3 C51.3,464.4 50.0,467.7 49.1,469.9 C48.2,472.1 47.0,474.1 46.4,476.5 C45.8,478.9 46.2,482.3 45.8,484.5 C45.4,486.7 44.1,488.9 43.8,489.8"/><path d="M59.3,473.9 C59.5,474.3 60.6,475.2 60.6,476.5 C60.6,477.8 59.5,480.0 59.3,481.8 C59.1,483.6 58.6,485.9 59.3,487.2 C59.9,488.5 61.9,489.8 63.2,489.8 C64.5,489.8 66.5,487.6 67.2,487.2"/><path d="M46,485.8 C47.1,486.2 50.4,487.8 52.6,488.5 C54.8,489.2 58.2,489.6 59.3,489.8"/><path d="M55.3,495.1 C56.0,495.8 58.6,497.3 59.3,499.1 C60.0,500.9 59.5,503.3 59.3,505.7 C59.1,508.1 57.9,511.7 57.9,513.7 C57.9,515.7 59.1,517.0 59.3,517.7"/><path d="M48.7,461.9 C49.1,462.8 50.4,465.4 51.3,467.2 C52.2,469.0 54.2,470.4 54.0,472.6 C53.8,474.8 50.7,479.2 50.0,480.5"/><path d="M77.1,355.6 C77.3,354.2 77.7,349.8 78.3,347.2 C78.9,344.6 79.5,342.0 80.7,340.0 C81.9,338.0 83.6,336.2 85.5,335.2 C87.4,334.2 90.2,333.9 92.0,334.0 C93.8,334.1 94.0,335.0 96.1,336.1 C98.1,337.2 101.9,339.3 104.3,340.9 C106.7,342.5 108.6,344.6 110.4,345.6 C112.2,346.6 113.6,346.0 115.1,347.0 C116.6,348.0 117.6,349.7 119.2,351.7 C120.8,353.7 122.8,356.6 124.6,359.2 C126.4,361.8 128.2,365.1 130.0,367.3 C131.8,369.6 133.9,370.7 135.5,372.7 C137.1,374.7 138.2,377.0 139.5,379.5 C140.8,382.0 142.5,385.1 143.6,387.7 C144.7,390.3 145.4,392.7 146.2,395.4 C146.9,398.1 147.7,401.1 148.1,404.0 C148.5,406.9 148.7,409.5 148.7,412.6 C148.7,415.7 148.6,418.9 148.1,422.4 C147.6,425.9 146.4,430.0 145.6,433.5 C144.8,437.0 143.8,440.6 143.2,443.3 C142.6,446.1 142.7,447.6 141.8,450.0 C140.9,452.4 139.1,455.6 137.8,458.0 C136.5,460.4 134.6,462.0 133.8,464.6 C133.0,467.2 133.6,470.8 133.2,473.9 C132.8,477.0 132.2,480.5 131.2,483.2 C130.2,485.9 128.5,487.6 127.2,489.8 C125.9,492.0 124.5,494.5 123.2,496.5 C121.9,498.5 120.8,500.3 119.2,501.8 C117.7,503.3 115.7,504.6 113.9,505.7 C112.1,506.8 110.1,507.3 108.6,508.4 C107.0,509.5 106.1,511.3 104.6,512.4 C103.0,513.5 100.7,514.5 99.3,515.0 C97.9,515.5 98.2,515.3 96.4,515.5 C94.6,515.7 91.4,516.2 88.5,516.3 C85.6,516.4 81.5,516.5 79.2,516.3 C76.9,516.1 75.4,516.3 74.5,515.0 C73.6,513.7 73.9,510.8 73.9,508.4 C73.9,506.0 74.4,501.7 74.5,500.4"/><path d="M77.1,359.2 C78.1,358.8 80.6,357.4 83.1,356.8 C85.6,356.2 90.5,355.8 92.0,355.6"/><path d="M85.5,342.4 C85.6,343.6 85.7,348.0 86.1,349.6 C86.5,351.2 86.9,351.8 87.9,352.0 C88.9,352.2 91.3,351.0 92.0,350.8"/><path d="M76,362.7 C76.8,362.9 78.7,364.0 80.7,364.0 C82.7,364.0 86.0,362.7 87.9,362.7 C89.8,362.7 91.3,363.8 92.0,364.0"/><path d="M77.1,378.3 C78.1,377.7 80.6,375.5 83.1,374.7 C85.6,373.9 90.5,373.7 92.0,373.5"/><path d="M78.3,389.1 C79.3,388.5 82.0,386.3 84.3,385.5 C86.6,384.7 90.7,384.5 92.0,384.3"/><path d="M110.4,346.3 C110.5,347.8 110.2,352.7 110.8,355.1 C111.4,357.5 112.7,359.0 113.8,360.5 C114.9,362.0 116.4,362.5 117.2,363.9 C118.0,365.3 118.0,367.1 118.5,368.7 C119.0,370.3 118.9,372.7 119.9,373.4 C120.9,374.1 122.7,373.3 124.6,372.7 C126.5,372.1 130.3,370.4 131.4,370.0"/><path d="M88,351.7 C89.3,351.8 93.6,351.8 96.1,352.4 C98.6,353.0 100.9,354.2 102.9,355.1 C104.9,356.0 107.0,356.9 108.3,357.8 C109.6,358.7 110.5,360.1 111.0,360.5"/><path d="M88,359.2 C89.1,359.1 92.1,358.2 94.8,358.5 C97.5,358.8 101.4,360.5 104.3,361.2 C107.2,361.9 110.4,362.2 112.4,362.6 C114.4,363.1 115.8,363.7 116.5,363.9"/><path d="M88,366 C88.9,366.4 91.8,367.8 93.4,368.7 C95.0,369.6 96.1,370.9 97.5,371.4 C98.9,371.8 100.9,371.4 101.6,371.4"/><path d="M109.7,366 C109.5,367.1 109.0,370.4 108.3,372.7 C107.6,374.9 106.5,377.4 105.6,379.5 C104.7,381.6 103.1,382.8 102.9,385.0 C102.7,387.2 103.8,391.3 104.3,393.0 C104.8,394.7 105.8,394.2 105.7,395.4 C105.6,396.6 104.9,398.9 103.8,400.3 C102.7,401.7 100.5,403.2 98.9,404.0 C97.3,404.8 94.8,405.0 94.0,405.2"/><path d="M88,376.8 C89.1,377.5 92.5,379.8 94.8,380.9 C97.1,382.0 100.5,383.2 101.6,383.6"/><path d="M120.5,372.7 C120.0,373.8 118.3,377.7 117.8,379.5 C117.2,381.3 116.8,382.7 117.2,383.6 C117.7,384.5 119.5,384.3 120.5,385.0 C121.5,385.7 122.8,386.5 123.5,388.0 C124.2,389.5 124.3,392.1 124.7,394.1 C125.1,396.2 125.2,398.7 126.0,400.3 C126.8,401.9 128.6,402.4 129.6,404.0 C130.6,405.6 131.5,407.9 132.1,410.1 C132.7,412.4 133.1,415.4 133.3,417.5 C133.5,419.6 133.3,421.6 133.3,422.4"/><path d="M88,385 C88.9,385.4 91.6,386.4 93.4,387.7 C95.2,389.0 97.9,392.1 98.8,393.0"/><path d="M128.4,395.4 C129.4,396.2 132.8,398.9 134.6,400.3 C136.4,401.7 138.3,402.6 139.5,404.0 C140.7,405.4 141.5,408.1 141.9,408.9"/><path d="M105,401.5 C106.0,400.9 108.9,398.6 111.2,397.8 C113.5,397.0 117.2,396.2 118.6,396.6 C120.0,397.0 119.6,399.7 119.8,400.3"/><path d="M102.6,401.5 C103.4,402.3 106.1,404.8 107.5,406.4 C108.9,408.0 109.6,410.3 111.2,411.3 C112.8,412.3 115.5,411.8 117.3,412.6 C119.1,413.4 121.1,414.5 122.3,416.3 C123.5,418.1 123.9,421.4 124.7,423.6 C125.5,425.9 125.8,428.4 127.2,429.8 C128.6,431.2 131.2,431.6 133.3,432.2 C135.4,432.8 138.1,432.1 139.5,433.5 C140.9,434.9 141.5,438.1 141.9,440.8 C142.3,443.6 143.2,447.4 141.9,450.0 C140.6,452.6 135.2,454.2 133.8,456.6 C132.5,459.0 133.8,463.3 133.8,464.6"/><path d="M94,424.9 C95.0,425.3 98.0,426.3 100.1,427.3 C102.1,428.3 104.6,429.8 106.3,431.0 C108.0,432.2 108.4,433.7 110.0,434.7 C111.6,435.7 113.6,436.4 116.1,437.2 C118.5,438.0 122.5,438.4 124.7,439.6 C127.0,440.8 128.6,442.3 129.6,444.5 C130.6,446.7 130.7,451.6 130.9,453.0"/><path d="M94,417.5 C94.8,417.1 97.3,416.2 98.9,415.0 C100.5,413.8 102.6,411.5 103.8,410.1 C105.0,408.7 105.9,407.0 106.3,406.4"/><path d="M96.5,431 C96.3,432.4 95.6,437.1 95.2,439.6 C94.8,442.1 94.2,444.8 94.0,445.8"/><path d="M107.5,434.7 C107.7,435.9 108.7,439.6 108.7,442.1 C108.7,444.7 107.7,447.4 107.3,450.0 C106.9,452.6 106.7,455.1 106.6,458.0 C106.5,460.9 106.5,464.7 106.6,467.3 C106.7,469.9 106.1,472.6 107.3,473.9 C108.5,475.2 111.9,474.6 113.9,475.2 C115.9,475.8 118.3,476.9 119.2,477.2"/><path d="M79.5,391.6 C80.3,392.4 82.5,394.8 84.3,396.4 C86.1,398.0 88.0,399.8 90.3,401.2 C92.6,402.6 96.7,404.2 98.0,404.8"/><path d="M85.5,388 C86.1,389.0 87.7,392.4 89.1,394.0 C90.5,395.6 92.4,396.8 93.9,397.6 C95.4,398.4 97.3,398.6 98.0,398.8"/><path d="M98,420.4 C96.9,420.6 93.4,420.5 91.5,421.5 C89.6,422.5 87.9,424.3 86.7,426.3 C85.5,428.3 84.7,432.3 84.3,433.5"/><path d="M98,424 C97.3,424.4 95.0,424.7 93.9,426.3 C92.8,427.9 92.1,431.3 91.5,433.5 C90.9,435.7 90.5,438.5 90.3,439.5"/><path d="M78.3,438.3 C79.3,438.7 82.7,440.3 84.3,440.7 C85.9,441.1 87.3,440.7 87.9,440.7"/><path d="M125.9,450 C126.0,451.1 126.1,454.4 126.5,456.6 C126.9,458.8 128.4,461.5 128.5,463.3 C128.6,465.1 127.9,466.0 127.2,467.3 C126.5,468.6 125.3,469.2 124.5,471.2 C123.7,473.2 122.9,476.5 122.5,479.2 C122.1,481.9 122.5,485.0 121.9,487.2 C121.4,489.4 120.8,490.7 119.2,492.5 C117.7,494.3 114.1,496.0 112.6,497.8 C111.0,499.6 110.1,501.8 109.9,503.1 C109.7,504.4 111.1,505.3 111.3,505.7"/><path d="M107.3,473.9 C106.6,474.8 104.6,477.0 103.3,479.2 C102.0,481.4 100.0,484.8 99.3,487.2 C98.6,489.6 99.7,491.6 99.3,493.8 C98.9,496.0 97.2,498.0 96.7,500.4 C96.2,502.8 96.2,506.2 96.0,508.4 C95.8,510.6 95.4,512.8 95.3,513.7"/><path d="M94,473.9 C94.9,474.1 98.4,475.0 99.3,475.2"/><path d="M77.8,471.2 C78.7,471.4 81.7,472.2 83.2,472.6 C84.8,473.1 86.4,473.7 87.1,473.9"/><path d="M92.4,450 C92.9,451.8 95.1,457.5 95.1,460.6 C95.1,463.7 93.3,466.4 92.4,468.6 C91.5,470.8 91.1,472.1 89.8,473.9 C88.5,475.7 85.6,477.9 84.5,479.2 C83.4,480.5 83.4,481.4 83.2,481.8"/><path d="M100,473.9 C99.2,474.1 96.6,474.5 95.1,475.2 C93.6,475.9 91.8,477.4 91.1,477.9"/><path d="M94.5,452.7 C94.8,453.6 96.0,456.0 96.0,458.0 C96.0,460.0 94.9,463.5 94.7,464.6"/><path d="M75.2,372 L76.6,385 L76.9,400 L76.8,420 L76.6,440 L78,448 L78.2,458 L77.2,468 L77.2,480 L76.6,492 L75.6,498 L74.4,498 L74,488 L74.3,476 L73.6,465 L73.6,452 L74.6,440 L74.8,420 L74.9,400 L74.8,385 Z" fill="#c8c8c8" stroke="#c8c8c8" stroke-width="1"/></g>
<line x1="13.5" y1="400.2" x2="30.4" y2="380.8" stroke="#dc3a48" stroke-width="2.2"/>
<path d="M33.7,377.0 L32.0,383.5 L27.5,379.6 Z" fill="#dc3a48"/>
<line x1="74.3" y1="359.5" x2="74.3" y2="441.0" stroke="#dc3a48" stroke-width="2.2"/>
<path d="M74.3,446.0 L71.3,440.0 L77.3,440.0 Z" fill="#dc3a48"/>
<line x1="74.3" y1="400.2" x2="36.4" y2="486.9" stroke="#dc3a48" stroke-width="2.2"/>
<path d="M34.4,491.5 L34.1,484.8 L39.6,487.2 Z" fill="#dc3a48"/>
<circle cx="33.7" cy="359.5" r="1.5" fill="#34308a"/>
<circle cx="112.3" cy="359.5" r="1.5" fill="#34308a"/>
<circle cx="13.5" cy="377" r="1.5" fill="#34308a"/>
<circle cx="33.7" cy="377" r="1.5" fill="#34308a"/>
<circle cx="74.3" cy="377" r="1.5" fill="#34308a"/>
<circle cx="112.3" cy="377" r="1.5" fill="#34308a"/>
<circle cx="132.2" cy="377" r="1.5" fill="#34308a"/>
<circle cx="33.7" cy="400.2" r="1.5" fill="#34308a"/>
<circle cx="112.3" cy="400.2" r="1.5" fill="#34308a"/>
<circle cx="132.2" cy="400.2" r="1.5" fill="#34308a"/>
<circle cx="13.5" cy="424" r="1.5" fill="#34308a"/>
<circle cx="33.7" cy="424" r="1.5" fill="#34308a"/>
<circle cx="74.3" cy="424" r="1.5" fill="#34308a"/>
<circle cx="112.3" cy="424" r="1.5" fill="#34308a"/>
<circle cx="132.2" cy="424" r="1.5" fill="#34308a"/>
<circle cx="13.5" cy="447" r="1.5" fill="#34308a"/>
<circle cx="33.7" cy="447" r="1.5" fill="#34308a"/>
<circle cx="74.3" cy="447" r="1.5" fill="#34308a"/>
<circle cx="112.3" cy="447" r="1.5" fill="#34308a"/>
<circle cx="132.2" cy="447" r="1.5" fill="#34308a"/>
<circle cx="13.5" cy="467.4" r="1.5" fill="#34308a"/>
<circle cx="33.7" cy="467.4" r="1.5" fill="#34308a"/>
<circle cx="74.3" cy="467.4" r="1.5" fill="#34308a"/>
<circle cx="112.3" cy="467.4" r="1.5" fill="#34308a"/>
<circle cx="132.2" cy="467.4" r="1.5" fill="#34308a"/>
<circle cx="33.7" cy="492.5" r="1.5" fill="#34308a"/>
<circle cx="74.3" cy="492.5" r="1.5" fill="#34308a"/>
<circle cx="112.3" cy="492.5" r="1.5" fill="#34308a"/>
<circle cx="74.3" cy="359.5" r="3.1" fill="#ffffff" stroke="#34308e" stroke-width="2.0"/>
<circle cx="13.5" cy="400.2" r="3.4" fill="#e4e49a" stroke="#34308e" stroke-width="2.0"/>
<circle cx="74.3" cy="400.2" r="3.1" fill="#ecec9a" stroke="#34308e" stroke-width="2.0"/>
<line x1="186.0" y1="381.4" x2="186.0" y2="445.3" stroke="#ee1c25" stroke-width="2.2"/>
<path d="M186.0,450.3 L182.7,444.3 L189.3,444.3 Z" fill="#ee1c25"/>
<line x1="260.4" y1="498.0" x2="189.8" y2="387.3" stroke="#ee1c25" stroke-width="2.2"/>
<path d="M187.1,383.1 L193.1,386.4 L187.5,389.9 Z" fill="#ee1c25"/>
<line x1="224.5" y1="359.5" x2="224.5" y2="398.1" stroke="#ee1c25" stroke-width="2.2"/>
<path d="M224.5,403.1 L221.2,397.1 L227.8,397.1 Z" fill="#ee1c25"/>
<line x1="260.4" y1="498.0" x2="226.3" y2="366.3" stroke="#ee1c25" stroke-width="2.2"/>
<path d="M225.0,361.4 L229.7,366.4 L223.3,368.1 Z" fill="#ee1c25"/>
<line x1="224.5" y1="359.5" x2="258.3" y2="466.8" stroke="#ee1c25" stroke-width="2.2"/>
<path d="M259.8,471.6 L254.8,466.9 L261.1,464.9 Z" fill="#ee1c25"/>
<line x1="224.5" y1="405.1" x2="188.7" y2="491.5" stroke="#ee1c25" stroke-width="2.2"/>
<path d="M186.8,496.2 L186.0,489.3 L192.1,491.9 Z" fill="#ee1c25"/>
<line x1="283.6" y1="405.1" x2="231.0" y2="426.7" stroke="#ee1c25" stroke-width="2.2"/>
<path d="M226.3,428.6 L230.6,423.3 L233.2,429.4 Z" fill="#ee1c25"/>
<line x1="186.0" y1="452.3" x2="277.3" y2="408.1" stroke="#ee1c25" stroke-width="2.2"/>
<path d="M281.8,406.0 L277.8,411.6 L275.0,405.6 Z" fill="#ee1c25"/>
<line x1="186.0" y1="498.0" x2="278.5" y2="409.9" stroke="#ee1c25" stroke-width="2.2"/>
<path d="M282.2,406.5 L280.1,413.0 L275.5,408.2 Z" fill="#ee1c25"/>
<line x1="166.5" y1="473.5" x2="276.6" y2="473.5" stroke="#ee1c25" stroke-width="2.2"/>
<path d="M281.6,473.5 L275.6,476.8 L275.6,470.2 Z" fill="#ee1c25"/>
<line x1="260.4" y1="473.5" x2="193.0" y2="473.5" stroke="#ee1c25" stroke-width="2.2"/>
<path d="M188.0,473.5 L194.0,470.2 L194.0,476.8 Z" fill="#ee1c25"/>
<line x1="260.4" y1="498.0" x2="193.0" y2="498.0" stroke="#ee1c25" stroke-width="2.2"/>
<path d="M188.0,498.0 L194.0,494.7 L194.0,501.3 Z" fill="#ee1c25"/>
<line x1="224.5" y1="429.4" x2="224.5" y2="491.0" stroke="#ee1c25" stroke-width="2.2"/>
<path d="M224.5,496.0 L221.2,490.0 L227.8,490.0 Z" fill="#ee1c25"/>
<line x1="260.4" y1="498.0" x2="227.7" y2="435.6" stroke="#ee1c25" stroke-width="2.2"/>
<path d="M225.4,431.2 L231.1,435.0 L225.3,438.0 Z" fill="#ee1c25"/>
<line x1="283.6" y1="405.1" x2="228.3" y2="492.1" stroke="#ee1c25" stroke-width="2.2"/>
<path d="M225.6,496.3 L226.0,489.5 L231.6,493.0 Z" fill="#ee1c25"/>
<line x1="260.4" y1="473.5" x2="281.9" y2="388.2" stroke="#ee1c25" stroke-width="2.2"/>
<path d="M283.1,383.3 L284.8,390.0 L278.4,388.4 Z" fill="#ee1c25"/>
<line x1="283.6" y1="473.5" x2="192.8" y2="496.3" stroke="#ee1c25" stroke-width="2.2"/>
<path d="M187.9,497.5 L193.0,492.9 L194.6,499.3 Z" fill="#ee1c25"/>
<line x1="224.5" y1="429.4" x2="256.0" y2="468.1" stroke="#ee1c25" stroke-width="2.2"/>
<path d="M259.1,471.9 L252.8,469.4 L257.9,465.2 Z" fill="#ee1c25"/>
<line x1="186.0" y1="381.4" x2="256.0" y2="468.1" stroke="#ee1c25" stroke-width="2.2"/>
<path d="M259.1,471.9 L252.8,469.4 L257.9,465.2 Z" fill="#ee1c25"/>
<line x1="224.5" y1="405.1" x2="257.9" y2="491.5" stroke="#ee1c25" stroke-width="2.2"/>
<path d="M259.7,496.1 L254.4,491.7 L260.6,489.3 Z" fill="#ee1c25"/>
<circle cx="186.0" cy="359.5" r="1.5" fill="#34308a"/>
<circle cx="260.4" cy="359.5" r="1.5" fill="#34308a"/>
<circle cx="166.5" cy="381.4" r="1.5" fill="#34308a"/>
<circle cx="260.4" cy="381.4" r="1.5" fill="#34308a"/>
<circle cx="283.6" cy="381.4" r="1.5" fill="#34308a"/>
<circle cx="166.5" cy="405.1" r="1.5" fill="#34308a"/>
<circle cx="186.0" cy="405.1" r="1.5" fill="#34308a"/>
<circle cx="260.4" cy="405.1" r="1.5" fill="#34308a"/>
<circle cx="166.5" cy="429.4" r="1.5" fill="#34308a"/>
<circle cx="186.0" cy="429.4" r="1.5" fill="#34308a"/>
<circle cx="260.4" cy="429.4" r="1.5" fill="#34308a"/>
<circle cx="283.6" cy="429.4" r="1.5" fill="#34308a"/>
<circle cx="166.5" cy="452.3" r="1.5" fill="#34308a"/>
<circle cx="224.5" cy="452.3" r="1.5" fill="#34308a"/>
<circle cx="283.6" cy="452.3" r="1.5" fill="#34308a"/>
<circle cx="186.0" cy="473.5" r="1.5" fill="#34308a"/>
<circle cx="224.5" cy="473.5" r="1.5" fill="#34308a"/>
<circle cx="224.5" cy="359.5" r="4.0" fill="#ecec3c" stroke="#34308e" stroke-width="1.7"/>
<circle cx="186.0" cy="381.4" r="3.0" fill="#e2e27a" stroke="#34308e" stroke-width="2.0"/>
<circle cx="224.5" cy="381.4" r="3.0" fill="#f4f4dc" stroke="#34308e" stroke-width="2.0"/>
<circle cx="224.5" cy="405.1" r="3.0" fill="#f4f4dc" stroke="#34308e" stroke-width="2.0"/>
<circle cx="283.6" cy="405.1" r="4.3" fill="#ecec3c" stroke="#34308e" stroke-width="1.7"/>
<circle cx="224.5" cy="429.4" r="3.1" fill="#f4f4dc" stroke="#34308e" stroke-width="2.0"/>
<circle cx="186.0" cy="452.3" r="3.1" fill="#e2e27a" stroke="#34308e" stroke-width="2.0"/>
<circle cx="260.4" cy="452.3" r="3.3" fill="#f4f4dc" stroke="#34308e" stroke-width="2.0"/>
<circle cx="166.5" cy="473.5" r="3.3" fill="#f4f4dc" stroke="#34308e" stroke-width="2.0"/>
<circle cx="260.4" cy="473.5" r="5.0" fill="#ecec3c" stroke="#34308e" stroke-width="1.7"/>
<circle cx="283.6" cy="473.5" r="3.3" fill="#f4f4dc" stroke="#34308e" stroke-width="2.0"/>
<circle cx="186.0" cy="498.0" r="3.3" fill="#e2e27a" stroke="#34308e" stroke-width="2.0"/>
<circle cx="224.5" cy="498.0" r="3.2" fill="#f4f4dc" stroke="#34308e" stroke-width="2.0"/>
<circle cx="260.4" cy="498.0" r="6.2" fill="#ecec3c" stroke="#34308e" stroke-width="1.7"/>
<line x1="323.8" y1="475.6" x2="341.4" y2="370.5" stroke="#ee1c25" stroke-width="2.2"/>
<path d="M342.3,365.6 L344.5,372.0 L338.0,370.9 Z" fill="#ee1c25"/>
<line x1="380.4" y1="455.2" x2="345.3" y2="370.1" stroke="#ee1c25" stroke-width="2.2"/>
<path d="M343.4,365.4 L348.7,369.7 L342.6,372.3 Z" fill="#ee1c25"/>
<line x1="342.6" y1="385.6" x2="342.6" y2="493.2" stroke="#ee1c25" stroke-width="2.2"/>
<path d="M342.6,498.2 L339.3,492.2 L345.9,492.2 Z" fill="#ee1c25"/>
<line x1="342.6" y1="363.6" x2="342.6" y2="378.6" stroke="#ee1c25" stroke-width="2.2"/>
<path d="M342.6,383.6 L339.3,377.6 L345.9,377.6 Z" fill="#ee1c25"/>
<line x1="342.6" y1="385.6" x2="376.0" y2="427.0" stroke="#ee1c25" stroke-width="2.2"/>
<path d="M379.1,430.8 L372.8,428.2 L377.9,424.1 Z" fill="#ee1c25"/>
<line x1="342.6" y1="385.6" x2="409.8" y2="428.6" stroke="#ee1c25" stroke-width="2.2"/>
<path d="M414.0,431.3 L407.2,430.9 L410.7,425.3 Z" fill="#ee1c25"/>
<line x1="342.6" y1="385.6" x2="410.6" y2="450.4" stroke="#ee1c25" stroke-width="2.2"/>
<path d="M414.3,453.8 L407.6,452.1 L412.2,447.3 Z" fill="#ee1c25"/>
<line x1="380.4" y1="363.6" x2="380.3" y2="494.4" stroke="#ee1c25" stroke-width="2.2"/>
<path d="M380.3,499.4 L377.0,493.4 L383.6,493.4 Z" fill="#ee1c25"/>
<line x1="380.4" y1="363.6" x2="344.5" y2="493.5" stroke="#ee1c25" stroke-width="2.2"/>
<path d="M343.1,498.3 L341.6,491.6 L347.9,493.4 Z" fill="#ee1c25"/>
<line x1="380.4" y1="363.6" x2="413.2" y2="448.7" stroke="#ee1c25" stroke-width="2.2"/>
<path d="M415.0,453.3 L409.7,448.9 L415.9,446.5 Z" fill="#ee1c25"/>
<line x1="380.4" y1="363.6" x2="435.1" y2="469.4" stroke="#ee1c25" stroke-width="2.2"/>
<path d="M437.4,473.8 L431.7,470.0 L437.6,467.0 Z" fill="#ee1c25"/>
<line x1="380.4" y1="363.6" x2="412.5" y2="426.2" stroke="#ee1c25" stroke-width="2.2"/>
<path d="M414.8,430.6 L409.1,426.8 L415.0,423.8 Z" fill="#ee1c25"/>
<line x1="380.4" y1="385.6" x2="409.8" y2="367.3" stroke="#ee1c25" stroke-width="2.2"/>
<path d="M414.0,364.7 L410.7,370.6 L407.2,365.0 Z" fill="#ee1c25"/>
<line x1="342.6" y1="455.2" x2="411.3" y2="369.1" stroke="#ee1c25" stroke-width="2.2"/>
<path d="M414.5,365.2 L413.3,371.9 L408.1,367.8 Z" fill="#ee1c25"/>
<line x1="342.6" y1="432.4" x2="410.6" y2="368.4" stroke="#ee1c25" stroke-width="2.2"/>
<path d="M414.2,365.0 L412.1,371.5 L407.6,366.7 Z" fill="#ee1c25"/>
<line x1="380.4" y1="385.6" x2="344.8" y2="493.6" stroke="#ee1c25" stroke-width="2.2"/>
<path d="M343.2,498.3 L342.0,491.6 L348.2,493.6 Z" fill="#ee1c25"/>
<line x1="380.4" y1="385.6" x2="413.1" y2="469.1" stroke="#ee1c25" stroke-width="2.2"/>
<path d="M415.0,473.7 L409.7,469.4 L415.9,466.9 Z" fill="#ee1c25"/>
<line x1="342.6" y1="475.6" x2="433.2" y2="390.4" stroke="#ee1c25" stroke-width="2.2"/>
<path d="M436.8,387.0 L434.7,393.5 L430.2,388.7 Z" fill="#ee1c25"/>
<line x1="380.4" y1="475.6" x2="434.5" y2="391.5" stroke="#ee1c25" stroke-width="2.2"/>
<path d="M437.2,387.3 L436.7,394.1 L431.2,390.5 Z" fill="#ee1c25"/>
<line x1="380.4" y1="363.6" x2="413.6" y2="468.9" stroke="#ee1c25" stroke-width="2.2"/>
<path d="M415.1,473.7 L410.1,469.0 L416.4,467.0 Z" fill="#ee1c25"/>
<line x1="380.4" y1="363.6" x2="413.9" y2="493.4" stroke="#ee1c25" stroke-width="2.2"/>
<path d="M415.2,498.3 L410.5,493.3 L416.9,491.6 Z" fill="#ee1c25"/>
<line x1="438.3" y1="475.6" x2="438.3" y2="415.5" stroke="#ee1c25" stroke-width="2.2"/>
<path d="M438.3,410.5 L441.6,416.5 L435.0,416.5 Z" fill="#ee1c25"/>
<line x1="438.3" y1="408.5" x2="438.3" y2="392.6" stroke="#ee1c25" stroke-width="2.2"/>
<path d="M438.3,387.6 L441.6,393.6 L435.0,393.6 Z" fill="#ee1c25"/>
<line x1="415.7" y1="363.6" x2="436.9" y2="468.7" stroke="#ee1c25" stroke-width="2.2"/>
<path d="M437.9,473.6 L433.5,468.4 L440.0,467.1 Z" fill="#ee1c25"/>
<line x1="415.7" y1="363.6" x2="347.0" y2="449.7" stroke="#ee1c25" stroke-width="2.2"/>
<path d="M343.8,453.6 L345.0,446.9 L350.2,451.0 Z" fill="#ee1c25"/>
<line x1="323.8" y1="408.5" x2="340.7" y2="468.9" stroke="#ee1c25" stroke-width="2.2"/>
<path d="M342.1,473.7 L337.3,468.8 L343.6,467.0 Z" fill="#ee1c25"/>
<line x1="323.8" y1="408.5" x2="340.0" y2="448.7" stroke="#ee1c25" stroke-width="2.2"/>
<path d="M341.9,453.3 L336.6,449.0 L342.7,446.5 Z" fill="#ee1c25"/>
<line x1="323.8" y1="408.5" x2="375.9" y2="470.2" stroke="#ee1c25" stroke-width="2.2"/>
<path d="M379.1,474.1 L372.7,471.6 L377.8,467.4 Z" fill="#ee1c25"/>
<line x1="380.4" y1="408.5" x2="347.0" y2="449.8" stroke="#ee1c25" stroke-width="2.2"/>
<path d="M343.9,453.6 L345.1,446.9 L350.2,451.1 Z" fill="#ee1c25"/>
<line x1="323.8" y1="475.6" x2="431.3" y2="475.6" stroke="#ee1c25" stroke-width="2.2"/>
<path d="M436.3,475.6 L430.3,478.9 L430.3,472.3 Z" fill="#ee1c25"/>
<line x1="438.3" y1="475.6" x2="330.8" y2="475.6" stroke="#ee1c25" stroke-width="2.2"/>
<path d="M325.8,475.6 L331.8,472.3 L331.8,478.9 Z" fill="#ee1c25"/>
<line x1="342.6" y1="500.2" x2="408.7" y2="500.2" stroke="#ee1c25" stroke-width="2.2"/>
<path d="M413.7,500.2 L407.7,503.5 L407.7,496.9 Z" fill="#ee1c25"/>
<line x1="415.7" y1="500.2" x2="349.6" y2="500.2" stroke="#ee1c25" stroke-width="2.2"/>
<path d="M344.6,500.2 L350.6,496.9 L350.6,503.5 Z" fill="#ee1c25"/>
<line x1="342.6" y1="455.2" x2="408.7" y2="455.2" stroke="#ee1c25" stroke-width="2.2"/>
<path d="M413.7,455.2 L407.7,458.5 L407.7,451.9 Z" fill="#ee1c25"/>
<line x1="380.4" y1="432.4" x2="412.5" y2="494.0" stroke="#ee1c25" stroke-width="2.2"/>
<path d="M414.8,498.4 L409.1,494.6 L414.9,491.6 Z" fill="#ee1c25"/>
<line x1="380.4" y1="432.4" x2="329.4" y2="471.4" stroke="#ee1c25" stroke-width="2.2"/>
<path d="M325.4,474.4 L328.2,468.1 L332.2,473.4 Z" fill="#ee1c25"/>
<line x1="380.4" y1="432.4" x2="346.0" y2="494.1" stroke="#ee1c25" stroke-width="2.2"/>
<path d="M343.6,498.5 L343.6,491.6 L349.4,494.8 Z" fill="#ee1c25"/>
<line x1="380.4" y1="432.4" x2="432.7" y2="471.4" stroke="#ee1c25" stroke-width="2.2"/>
<path d="M436.7,474.4 L429.9,473.5 L433.9,468.2 Z" fill="#ee1c25"/>
<line x1="380.4" y1="455.2" x2="347.1" y2="494.8" stroke="#ee1c25" stroke-width="2.2"/>
<path d="M343.9,498.7 L345.2,492.0 L350.3,496.2 Z" fill="#ee1c25"/>
<line x1="380.4" y1="455.2" x2="411.4" y2="494.7" stroke="#ee1c25" stroke-width="2.2"/>
<path d="M414.5,498.6 L408.2,495.9 L413.4,491.9 Z" fill="#ee1c25"/>
<line x1="380.4" y1="455.2" x2="431.7" y2="473.3" stroke="#ee1c25" stroke-width="2.2"/>
<path d="M436.4,474.9 L429.7,476.1 L431.9,469.8 Z" fill="#ee1c25"/>
<line x1="323.8" y1="475.6" x2="408.9" y2="498.4" stroke="#ee1c25" stroke-width="2.2"/>
<path d="M413.8,499.7 L407.1,501.3 L408.8,494.9 Z" fill="#ee1c25"/>
<line x1="342.6" y1="500.2" x2="431.5" y2="477.3" stroke="#ee1c25" stroke-width="2.2"/>
<path d="M436.4,476.1 L431.4,480.8 L429.7,474.4 Z" fill="#ee1c25"/>
<line x1="323.8" y1="475.6" x2="373.9" y2="498.5" stroke="#ee1c25" stroke-width="2.2"/>
<path d="M378.5,500.6 L371.7,501.1 L374.4,495.1 Z" fill="#ee1c25"/>
<line x1="342.6" y1="455.2" x2="409.7" y2="496.5" stroke="#ee1c25" stroke-width="2.2"/>
<path d="M414.0,499.2 L407.2,498.8 L410.6,493.2 Z" fill="#ee1c25"/>
<line x1="415.7" y1="455.2" x2="348.6" y2="496.5" stroke="#ee1c25" stroke-width="2.2"/>
<path d="M344.3,499.2 L347.7,493.2 L351.1,498.8 Z" fill="#ee1c25"/>
<line x1="342.6" y1="455.2" x2="431.5" y2="474.1" stroke="#ee1c25" stroke-width="2.2"/>
<path d="M436.3,475.2 L429.8,477.2 L431.2,470.7 Z" fill="#ee1c25"/>
<line x1="415.7" y1="455.2" x2="330.6" y2="474.1" stroke="#ee1c25" stroke-width="2.2"/>
<path d="M325.8,475.2 L330.9,470.6 L332.3,477.1 Z" fill="#ee1c25"/>
<line x1="342.6" y1="432.4" x2="410.6" y2="495.4" stroke="#ee1c25" stroke-width="2.2"/>
<path d="M414.2,498.8 L407.6,497.2 L412.1,492.3 Z" fill="#ee1c25"/>
<line x1="415.7" y1="432.4" x2="347.7" y2="495.4" stroke="#ee1c25" stroke-width="2.2"/>
<path d="M344.1,498.8 L346.2,492.3 L350.7,497.2 Z" fill="#ee1c25"/>
<line x1="342.6" y1="408.5" x2="411.3" y2="494.7" stroke="#ee1c25" stroke-width="2.2"/>
<path d="M414.5,498.6 L408.1,496.0 L413.3,491.9 Z" fill="#ee1c25"/>
<line x1="380.4" y1="408.5" x2="345.3" y2="493.7" stroke="#ee1c25" stroke-width="2.2"/>
<path d="M343.4,498.4 L342.6,491.5 L348.7,494.1 Z" fill="#ee1c25"/>
<line x1="342.6" y1="475.6" x2="409.1" y2="498.0" stroke="#ee1c25" stroke-width="2.2"/>
<path d="M413.8,499.6 L407.1,500.8 L409.2,494.5 Z" fill="#ee1c25"/>
<line x1="415.7" y1="475.6" x2="349.2" y2="498.0" stroke="#ee1c25" stroke-width="2.2"/>
<path d="M344.5,499.6 L349.1,494.5 L351.2,500.8 Z" fill="#ee1c25"/>
<line x1="380.4" y1="475.6" x2="348.5" y2="496.4" stroke="#ee1c25" stroke-width="2.2"/>
<path d="M344.3,499.1 L347.5,493.1 L351.1,498.6 Z" fill="#ee1c25"/>
<line x1="380.4" y1="475.6" x2="410.0" y2="496.2" stroke="#ee1c25" stroke-width="2.2"/>
<path d="M414.1,499.1 L407.2,498.3 L411.0,492.9 Z" fill="#ee1c25"/>
<line x1="342.6" y1="455.2" x2="374.2" y2="472.3" stroke="#ee1c25" stroke-width="2.2"/>
<path d="M378.6,474.7 L371.8,474.7 L374.9,468.9 Z" fill="#ee1c25"/>
<line x1="415.7" y1="455.2" x2="386.5" y2="472.1" stroke="#ee1c25" stroke-width="2.2"/>
<path d="M382.1,474.6 L385.7,468.7 L389.0,474.5 Z" fill="#ee1c25"/>
<line x1="438.3" y1="408.5" x2="348.9" y2="452.1" stroke="#ee1c25" stroke-width="2.2"/>
<path d="M344.4,454.3 L348.3,448.7 L351.2,454.7 Z" fill="#ee1c25"/>
<line x1="415.7" y1="500.2" x2="347.0" y2="414.0" stroke="#ee1c25" stroke-width="2.2"/>
<path d="M343.8,410.1 L350.2,412.7 L345.0,416.8 Z" fill="#ee1c25"/>
<line x1="380.3" y1="501.4" x2="411.4" y2="460.8" stroke="#ee1c25" stroke-width="2.2"/>
<path d="M414.5,456.8 L413.5,463.6 L408.2,459.5 Z" fill="#ee1c25"/>
<line x1="342.6" y1="455.2" x2="375.9" y2="496.0" stroke="#ee1c25" stroke-width="2.2"/>
<path d="M379.0,499.9 L372.7,497.3 L377.8,493.1 Z" fill="#ee1c25"/>
<line x1="380.4" y1="475.6" x2="345.3" y2="392.1" stroke="#ee1c25" stroke-width="2.2"/>
<path d="M343.4,387.4 L348.7,391.7 L342.7,394.3 Z" fill="#ee1c25"/>
<line x1="380.3" y1="501.4" x2="346.0" y2="438.5" stroke="#ee1c25" stroke-width="2.2"/>
<path d="M343.6,434.2 L349.3,437.8 L343.5,441.0 Z" fill="#ee1c25"/>
<line x1="415.7" y1="475.6" x2="383.7" y2="414.7" stroke="#ee1c25" stroke-width="2.2"/>
<path d="M381.3,410.3 L387.0,414.0 L381.2,417.1 Z" fill="#ee1c25"/>
<line x1="342.6" y1="500.2" x2="377.0" y2="438.5" stroke="#ee1c25" stroke-width="2.2"/>
<path d="M379.4,434.1 L379.4,441.0 L373.6,437.8 Z" fill="#ee1c25"/>
<line x1="342.6" y1="475.6" x2="409.7" y2="436.0" stroke="#ee1c25" stroke-width="2.2"/>
<path d="M414.0,433.4 L410.5,439.3 L407.1,433.6 Z" fill="#ee1c25"/>
<line x1="415.7" y1="500.2" x2="383.6" y2="438.6" stroke="#ee1c25" stroke-width="2.2"/>
<path d="M381.3,434.2 L387.0,438.0 L381.2,441.0 Z" fill="#ee1c25"/>
<line x1="415.7" y1="455.2" x2="384.6" y2="495.8" stroke="#ee1c25" stroke-width="2.2"/>
<path d="M381.5,499.8 L382.5,493.0 L387.8,497.1 Z" fill="#ee1c25"/>
<line x1="380.4" y1="475.6" x2="346.0" y2="414.6" stroke="#ee1c25" stroke-width="2.2"/>
<path d="M343.6,410.2 L349.4,413.9 L343.7,417.1 Z" fill="#ee1c25"/>
<line x1="380.4" y1="408.5" x2="412.4" y2="469.4" stroke="#ee1c25" stroke-width="2.2"/>
<path d="M414.8,473.8 L409.1,470.1 L414.9,467.0 Z" fill="#ee1c25"/>
<line x1="380.4" y1="385.6" x2="433.8" y2="449.8" stroke="#ee1c25" stroke-width="2.2"/>
<path d="M437.0,453.7 L430.6,451.2 L435.7,446.9 Z" fill="#ee1c25"/>
<line x1="415.7" y1="432.4" x2="348.6" y2="472.0" stroke="#ee1c25" stroke-width="2.2"/>
<path d="M344.3,474.6 L347.8,468.7 L351.2,474.4 Z" fill="#ee1c25"/>
<line x1="438.3" y1="408.5" x2="417.4" y2="493.4" stroke="#ee1c25" stroke-width="2.2"/>
<path d="M416.2,498.3 L414.4,491.6 L420.8,493.2 Z" fill="#ee1c25"/>
<line x1="380.4" y1="385.6" x2="345.9" y2="449.0" stroke="#ee1c25" stroke-width="2.2"/>
<path d="M343.6,453.4 L343.5,446.6 L349.3,449.7 Z" fill="#ee1c25"/>
<line x1="380.4" y1="432.4" x2="347.2" y2="470.3" stroke="#ee1c25" stroke-width="2.2"/>
<path d="M343.9,474.1 L345.4,467.4 L350.4,471.8 Z" fill="#ee1c25"/>
<line x1="380.4" y1="408.5" x2="380.3" y2="494.4" stroke="#ee1c25" stroke-width="2.2"/>
<path d="M380.3,499.4 L377.0,493.4 L383.6,493.4 Z" fill="#ee1c25"/>
<circle cx="323.8" cy="385.6" r="1.5" fill="#34308a"/>
<circle cx="415.7" cy="385.6" r="1.5" fill="#34308a"/>
<circle cx="415.7" cy="408.5" r="1.5" fill="#34308a"/>
<circle cx="323.8" cy="432.4" r="1.5" fill="#34308a"/>
<circle cx="438.3" cy="432.4" r="1.5" fill="#34308a"/>
<circle cx="323.8" cy="455.2" r="1.5" fill="#34308a"/>
<circle cx="438.3" cy="455.2" r="1.5" fill="#34308a"/>
<circle cx="342.6" cy="363.6" r="3.2" fill="#e4e448" stroke="#34308e" stroke-width="2.0"/>
<circle cx="380.4" cy="363.6" r="4.3" fill="#ecec3c" stroke="#34308e" stroke-width="1.7"/>
<circle cx="415.7" cy="363.6" r="5.2" fill="#ecec3c" stroke="#34308e" stroke-width="1.7"/>
<circle cx="342.6" cy="385.6" r="5.2" fill="#ecec3c" stroke="#34308e" stroke-width="1.7"/>
<circle cx="380.4" cy="385.6" r="4.2" fill="#ecec3c" stroke="#34308e" stroke-width="1.7"/>
<circle cx="323.8" cy="408.5" r="4.3" fill="#ecec3c" stroke="#34308e" stroke-width="1.7"/>
<circle cx="342.6" cy="408.5" r="3.1" fill="#f0f0d0" stroke="#34308e" stroke-width="2.0"/>
<circle cx="380.4" cy="408.5" r="4.2" fill="#ecec3c" stroke="#34308e" stroke-width="1.7"/>
<circle cx="438.3" cy="408.5" r="4.3" fill="#ecec3c" stroke="#34308e" stroke-width="1.7"/>
<circle cx="342.6" cy="432.4" r="3.3" fill="#e4e448" stroke="#34308e" stroke-width="2.0"/>
<circle cx="380.4" cy="432.4" r="6.4" fill="#ecec3c" stroke="#34308e" stroke-width="1.7"/>
<circle cx="415.7" cy="432.4" r="3.0" fill="#e4e448" stroke="#34308e" stroke-width="2.0"/>
<circle cx="342.6" cy="455.2" r="5.3" fill="#ecec3c" stroke="#34308e" stroke-width="1.7"/>
<circle cx="380.4" cy="455.2" r="7.5" fill="#ecec3c" stroke="#34308e" stroke-width="1.7"/>
<circle cx="415.7" cy="455.2" r="5.3" fill="#ecec3c" stroke="#34308e" stroke-width="1.7"/>
<circle cx="323.8" cy="475.6" r="5.6" fill="#ecec3c" stroke="#34308e" stroke-width="1.7"/>
<circle cx="342.6" cy="475.6" r="4.0" fill="#ecec3c" stroke="#34308e" stroke-width="1.7"/>
<circle cx="380.4" cy="475.6" r="4.0" fill="#e4e448" stroke="#34308e" stroke-width="2.0"/>
<circle cx="415.7" cy="475.6" r="4.0" fill="#e4e448" stroke="#34308e" stroke-width="2.0"/>
<circle cx="438.3" cy="475.6" r="6.5" fill="#ecec3c" stroke="#34308e" stroke-width="1.7"/>
<circle cx="342.6" cy="500.2" r="5.8" fill="#ecec3c" stroke="#34308e" stroke-width="1.7"/>
<circle cx="380.3" cy="501.4" r="4.8" fill="#ecec3c" stroke="#34308e" stroke-width="1.7"/>
<circle cx="415.7" cy="500.2" r="8.5" fill="#ecec3c" stroke="#34308e" stroke-width="1.7"/>
<text x="8" y="346.5" class="i16">t<tspan font-style="normal" font-size="12" dy="3">1</tspan></text>
<text x="164" y="342.5" class="i16">t<tspan font-style="normal" font-size="12" dy="3">2</tspan></text>
<text x="317" y="342.5" class="i16">t<tspan font-style="normal" font-size="12" dy="3">3</tspan></text>
<text x="463.4" y="337.6" class="t16">b</text>
<text x="182.4" y="323.6" class="t17" textLength="109.5">Occipital cortex</text>
<text x="176.7" y="542.4" class="t17" textLength="98.4">Frontal cortex</text>
</svg>
</body></html>
